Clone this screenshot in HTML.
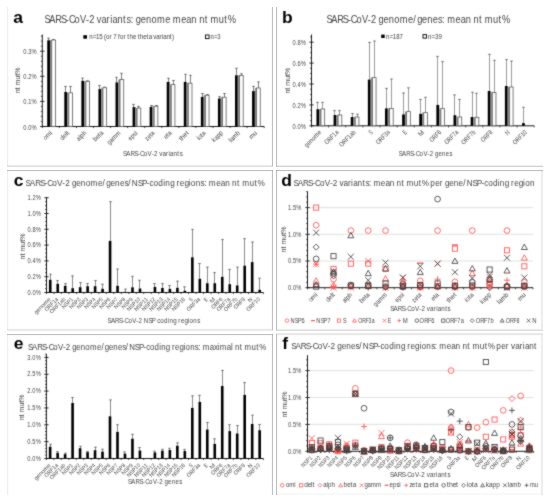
<!DOCTYPE html>
<html><head><meta charset="utf-8"><style>
html,body{margin:0;padding:0;background:#fff;}
svg{display:block;font-family:"Liberation Sans", sans-serif;will-change:transform;}
</style></head><body>
<svg width="550" height="498" viewBox="0 0 550 498">
<defs><filter id="bl" x="0" y="0" width="100%" height="100%" color-interpolation-filters="sRGB"><feConvolveMatrix order="3" kernelMatrix="1 2 1 2 16 2 1 2 1" preserveAlpha="true" edgeMode="duplicate"/></filter></defs>
<rect width="550" height="498" fill="#fff"/>
<g filter="url(#bl)">
<rect x="7" y="7.5" width="265.5" height="158.5" fill="#fff" stroke="#d9d9d9" stroke-width="1"/>
<text x="13.3" y="22.7" font-size="16.5" font-weight="bold" fill="#000" textLength="9.73" lengthAdjust="spacingAndGlyphs">a</text>
<text transform="translate(44.50,22.70) scale(0.9094,1)" x="0.00 5.27 11.92 18.15 23.42 26.94 33.06 39.11 45.63 49.14 54.96 57.55 62.74 68.24 72.24 74.87 80.37 86.40 90.25 94.74 97.81 100.41 105.81 111.52 117.55 123.60 132.77 138.49 141.08 150.25 155.96 161.46 167.49 170.09 176.12 179.96 182.56 191.73 197.76 201.61" y="0" font-size="10.23" fill="#464646">SARS-CoV-2 variants: genome mean nt mut%</text>
<rect x="83.3" y="35.2" width="3.7" height="3.5" fill="#000"/>
<text transform="translate(89.20,39.30) scale(0.8842,1)" x="0.00 3.89 7.64 11.40 15.15 16.83 19.07 22.98 25.56 27.23 30.99 32.66 34.92 38.83 41.41 43.08 45.56 49.45 53.14 54.81 57.29 61.18 64.87 67.35 70.90 72.57 75.92 79.46 82.04 83.74 87.29 91.18 93.66" y="0" font-size="6.94" fill="#404040">n=15 (or 7 for the theta variant)</text>
<rect x="205.5" y="35.0" width="3.6" height="3.6" fill="#fff" stroke="#000" stroke-width="0.9"/>
<text transform="translate(210.60,39.30) scale(0.8491,1)" x="0.00 4.02 7.90" y="0" font-size="6.94" fill="#404040">n=3</text>
<text transform="translate(20.20,80.40) rotate(-90)" x="-12.98" y="0" font-size="7.95" fill="#464646" textLength="25.96" lengthAdjust="spacingAndGlyphs">nt mut%</text>
<line x1="42.3" y1="34.5" x2="42.3" y2="126.5" stroke="#000" stroke-width="0.9"/>
<line x1="40.099999999999994" y1="126.50" x2="44.5" y2="126.50" stroke="#000" stroke-width="0.8"/>
<text transform="translate(36.30,129.50) scale(0.8201,1)" x="-15.95 -11.87 -9.84 -5.76" y="0" font-size="7.00" fill="#464646">0.0%</text>
<line x1="40.099999999999994" y1="101.40" x2="44.5" y2="101.40" stroke="#000" stroke-width="0.8"/>
<text transform="translate(36.30,104.40) scale(0.8201,1)" x="-15.95 -11.87 -9.84 -5.76" y="0" font-size="7.00" fill="#464646">0.1%</text>
<line x1="40.099999999999994" y1="76.30" x2="44.5" y2="76.30" stroke="#000" stroke-width="0.8"/>
<text transform="translate(36.30,79.30) scale(0.8201,1)" x="-15.95 -11.87 -9.84 -5.76" y="0" font-size="7.00" fill="#464646">0.2%</text>
<line x1="40.099999999999994" y1="51.20" x2="44.5" y2="51.20" stroke="#000" stroke-width="0.8"/>
<text transform="translate(36.30,54.20) scale(0.8201,1)" x="-15.95 -11.87 -9.84 -5.76" y="0" font-size="7.00" fill="#464646">0.3%</text>
<line x1="40.8" y1="121.48" x2="42.3" y2="121.48" stroke="#000" stroke-width="0.6"/>
<line x1="40.8" y1="116.46" x2="42.3" y2="116.46" stroke="#000" stroke-width="0.6"/>
<line x1="40.8" y1="111.44" x2="42.3" y2="111.44" stroke="#000" stroke-width="0.6"/>
<line x1="40.8" y1="106.42" x2="42.3" y2="106.42" stroke="#000" stroke-width="0.6"/>
<line x1="40.8" y1="96.38" x2="42.3" y2="96.38" stroke="#000" stroke-width="0.6"/>
<line x1="40.8" y1="91.36" x2="42.3" y2="91.36" stroke="#000" stroke-width="0.6"/>
<line x1="40.8" y1="86.34" x2="42.3" y2="86.34" stroke="#000" stroke-width="0.6"/>
<line x1="40.8" y1="81.32" x2="42.3" y2="81.32" stroke="#000" stroke-width="0.6"/>
<line x1="40.8" y1="71.28" x2="42.3" y2="71.28" stroke="#000" stroke-width="0.6"/>
<line x1="40.8" y1="66.26" x2="42.3" y2="66.26" stroke="#000" stroke-width="0.6"/>
<line x1="40.8" y1="61.24" x2="42.3" y2="61.24" stroke="#000" stroke-width="0.6"/>
<line x1="40.8" y1="56.22" x2="42.3" y2="56.22" stroke="#000" stroke-width="0.6"/>
<line x1="40.8" y1="46.18" x2="42.3" y2="46.18" stroke="#000" stroke-width="0.6"/>
<line x1="40.8" y1="41.16" x2="42.3" y2="41.16" stroke="#000" stroke-width="0.6"/>
<line x1="40.8" y1="36.14" x2="42.3" y2="36.14" stroke="#000" stroke-width="0.6"/>
<line x1="42.3" y1="126.5" x2="264.2" y2="126.5" stroke="#000" stroke-width="0.9"/>
<line x1="42.30" y1="126.5" x2="42.30" y2="128.1" stroke="#000" stroke-width="0.7"/>
<line x1="59.37" y1="126.5" x2="59.37" y2="128.1" stroke="#000" stroke-width="0.7"/>
<line x1="76.44" y1="126.5" x2="76.44" y2="128.1" stroke="#000" stroke-width="0.7"/>
<line x1="93.51" y1="126.5" x2="93.51" y2="128.1" stroke="#000" stroke-width="0.7"/>
<line x1="110.58" y1="126.5" x2="110.58" y2="128.1" stroke="#000" stroke-width="0.7"/>
<line x1="127.65" y1="126.5" x2="127.65" y2="128.1" stroke="#000" stroke-width="0.7"/>
<line x1="144.72" y1="126.5" x2="144.72" y2="128.1" stroke="#000" stroke-width="0.7"/>
<line x1="161.78" y1="126.5" x2="161.78" y2="128.1" stroke="#000" stroke-width="0.7"/>
<line x1="178.85" y1="126.5" x2="178.85" y2="128.1" stroke="#000" stroke-width="0.7"/>
<line x1="195.92" y1="126.5" x2="195.92" y2="128.1" stroke="#000" stroke-width="0.7"/>
<line x1="212.99" y1="126.5" x2="212.99" y2="128.1" stroke="#000" stroke-width="0.7"/>
<line x1="230.06" y1="126.5" x2="230.06" y2="128.1" stroke="#000" stroke-width="0.7"/>
<line x1="247.13" y1="126.5" x2="247.13" y2="128.1" stroke="#000" stroke-width="0.7"/>
<line x1="264.20" y1="126.5" x2="264.20" y2="128.1" stroke="#000" stroke-width="0.7"/>
<text transform="translate(52.63,133.50) rotate(-45)" x="-9.96" y="0" font-size="6.78" fill="#464646" textLength="9.96" lengthAdjust="spacingAndGlyphs">omi</text>
<text transform="translate(69.70,133.50) rotate(-45)" x="-10.16" y="0" font-size="6.78" fill="#464646" textLength="10.16" lengthAdjust="spacingAndGlyphs">delt</text>
<text transform="translate(86.77,133.50) rotate(-45)" x="-11.26" y="0" font-size="6.78" fill="#464646" textLength="11.26" lengthAdjust="spacingAndGlyphs">alph</text>
<text transform="translate(103.84,133.50) rotate(-45)" x="-11.76" y="0" font-size="6.78" fill="#464646" textLength="11.76" lengthAdjust="spacingAndGlyphs">beta</text>
<text transform="translate(120.91,133.50) rotate(-45)" x="-16.30" y="0" font-size="6.78" fill="#464646" textLength="16.30" lengthAdjust="spacingAndGlyphs">gamm</text>
<text transform="translate(137.98,133.50) rotate(-45)" x="-10.52" y="0" font-size="6.78" fill="#464646" textLength="10.52" lengthAdjust="spacingAndGlyphs">epsi</text>
<text transform="translate(155.05,133.50) rotate(-45)" x="-10.92" y="0" font-size="6.78" fill="#464646" textLength="10.92" lengthAdjust="spacingAndGlyphs">zeta</text>
<text transform="translate(172.12,133.50) rotate(-45)" x="-8.39" y="0" font-size="6.78" fill="#464646" textLength="8.39" lengthAdjust="spacingAndGlyphs">eta</text>
<text transform="translate(189.19,133.50) rotate(-45)" x="-10.83" y="0" font-size="6.78" fill="#464646" textLength="10.83" lengthAdjust="spacingAndGlyphs">thet</text>
<text transform="translate(206.26,133.50) rotate(-45)" x="-10.05" y="0" font-size="6.78" fill="#464646" textLength="10.05" lengthAdjust="spacingAndGlyphs">iota</text>
<text transform="translate(223.33,133.50) rotate(-45)" x="-12.70" y="0" font-size="6.78" fill="#464646" textLength="12.70" lengthAdjust="spacingAndGlyphs">kapp</text>
<text transform="translate(240.40,133.50) rotate(-45)" x="-13.01" y="0" font-size="6.78" fill="#464646" textLength="13.01" lengthAdjust="spacingAndGlyphs">lamb</text>
<text transform="translate(257.47,133.50) rotate(-45)" x="-8.48" y="0" font-size="6.78" fill="#464646" textLength="8.48" lengthAdjust="spacingAndGlyphs">mu</text>
<text transform="translate(152.80,156.20) scale(0.8099,1)" x="-36.79 -32.70 -27.54 -22.70 -18.60 -15.87 -11.12 -6.41 -1.35 1.38 5.89 7.91 11.94 16.21 19.32 21.36 25.63 30.32 33.31" y="0" font-size="7.65" fill="#464646">SARS-CoV-2 variants</text>
<line x1="48.50" y1="38.10" x2="48.50" y2="40.30" stroke="#808080" stroke-width="1.0"/>
<line x1="47.20" y1="38.10" x2="49.80" y2="38.10" stroke="#404040" stroke-width="0.7"/>
<line x1="53.50" y1="39.50" x2="53.50" y2="40.00" stroke="#808080" stroke-width="1.0"/>
<line x1="52.20" y1="39.50" x2="54.80" y2="39.50" stroke="#404040" stroke-width="0.7"/>
<rect x="47.23" y="40.30" width="2.80" height="86.20" fill="#000"/>
<rect x="50.03" y="40.00" width="1.7" height="86.50" fill="#8f8f8f"/>
<rect x="51.73" y="40.00" width="3.7" height="86.50" fill="#fff" stroke="#5a5a5a" stroke-width="0.8"/>
<line x1="65.50" y1="86.40" x2="65.50" y2="92.00" stroke="#808080" stroke-width="1.0"/>
<line x1="64.20" y1="86.40" x2="66.80" y2="86.40" stroke="#404040" stroke-width="0.7"/>
<line x1="70.50" y1="86.40" x2="70.50" y2="92.80" stroke="#808080" stroke-width="1.0"/>
<line x1="69.20" y1="86.40" x2="71.80" y2="86.40" stroke="#404040" stroke-width="0.7"/>
<rect x="64.30" y="92.00" width="2.80" height="34.50" fill="#000"/>
<rect x="67.10" y="92.80" width="1.7" height="33.70" fill="#8f8f8f"/>
<rect x="68.80" y="92.80" width="3.7" height="33.70" fill="#fff" stroke="#5a5a5a" stroke-width="0.8"/>
<line x1="82.50" y1="78.10" x2="82.50" y2="80.80" stroke="#808080" stroke-width="1.0"/>
<line x1="81.20" y1="78.10" x2="83.80" y2="78.10" stroke="#404040" stroke-width="0.7"/>
<line x1="87.50" y1="80.80" x2="87.50" y2="81.30" stroke="#808080" stroke-width="1.0"/>
<line x1="86.20" y1="80.80" x2="88.80" y2="80.80" stroke="#404040" stroke-width="0.7"/>
<rect x="81.37" y="80.80" width="2.80" height="45.70" fill="#000"/>
<rect x="84.17" y="81.30" width="1.7" height="45.20" fill="#8f8f8f"/>
<rect x="85.87" y="81.30" width="3.7" height="45.20" fill="#fff" stroke="#5a5a5a" stroke-width="0.8"/>
<line x1="99.50" y1="85.60" x2="99.50" y2="89.10" stroke="#808080" stroke-width="1.0"/>
<line x1="98.20" y1="85.60" x2="100.80" y2="85.60" stroke="#404040" stroke-width="0.7"/>
<line x1="104.50" y1="87.20" x2="104.50" y2="87.70" stroke="#808080" stroke-width="1.0"/>
<line x1="103.20" y1="87.20" x2="105.80" y2="87.20" stroke="#404040" stroke-width="0.7"/>
<rect x="98.44" y="89.10" width="2.80" height="37.40" fill="#000"/>
<rect x="101.24" y="87.70" width="1.7" height="38.80" fill="#8f8f8f"/>
<rect x="102.94" y="87.70" width="3.7" height="38.80" fill="#fff" stroke="#5a5a5a" stroke-width="0.8"/>
<line x1="116.50" y1="77.30" x2="116.50" y2="82.40" stroke="#808080" stroke-width="1.0"/>
<line x1="115.20" y1="77.30" x2="117.80" y2="77.30" stroke="#404040" stroke-width="0.7"/>
<line x1="121.50" y1="73.30" x2="121.50" y2="79.50" stroke="#808080" stroke-width="1.0"/>
<line x1="120.20" y1="73.30" x2="122.80" y2="73.30" stroke="#404040" stroke-width="0.7"/>
<rect x="115.51" y="82.40" width="2.80" height="44.10" fill="#000"/>
<rect x="118.31" y="79.50" width="1.7" height="47.00" fill="#8f8f8f"/>
<rect x="120.01" y="79.50" width="3.7" height="47.00" fill="#fff" stroke="#5a5a5a" stroke-width="0.8"/>
<line x1="133.50" y1="104.40" x2="133.50" y2="107.10" stroke="#808080" stroke-width="1.0"/>
<line x1="132.20" y1="104.40" x2="134.80" y2="104.40" stroke="#404040" stroke-width="0.7"/>
<line x1="138.50" y1="106.40" x2="138.50" y2="108.10" stroke="#808080" stroke-width="1.0"/>
<line x1="137.20" y1="106.40" x2="139.80" y2="106.40" stroke="#404040" stroke-width="0.7"/>
<rect x="132.58" y="107.10" width="2.80" height="19.40" fill="#000"/>
<rect x="135.38" y="108.10" width="1.7" height="18.40" fill="#8f8f8f"/>
<rect x="137.08" y="108.10" width="3.7" height="18.40" fill="#fff" stroke="#5a5a5a" stroke-width="0.8"/>
<line x1="151.50" y1="105.50" x2="151.50" y2="106.90" stroke="#808080" stroke-width="1.0"/>
<line x1="150.20" y1="105.50" x2="152.80" y2="105.50" stroke="#404040" stroke-width="0.7"/>
<line x1="156.50" y1="105.50" x2="156.50" y2="106.20" stroke="#808080" stroke-width="1.0"/>
<line x1="155.20" y1="105.50" x2="157.80" y2="105.50" stroke="#404040" stroke-width="0.7"/>
<rect x="149.65" y="106.90" width="2.80" height="19.60" fill="#000"/>
<rect x="152.45" y="106.20" width="1.7" height="20.30" fill="#8f8f8f"/>
<rect x="154.15" y="106.20" width="3.7" height="20.30" fill="#fff" stroke="#5a5a5a" stroke-width="0.8"/>
<line x1="168.50" y1="78.20" x2="168.50" y2="81.90" stroke="#808080" stroke-width="1.0"/>
<line x1="167.20" y1="78.20" x2="169.80" y2="78.20" stroke="#404040" stroke-width="0.7"/>
<line x1="173.50" y1="80.50" x2="173.50" y2="84.60" stroke="#808080" stroke-width="1.0"/>
<line x1="172.20" y1="80.50" x2="174.80" y2="80.50" stroke="#404040" stroke-width="0.7"/>
<rect x="166.72" y="81.90" width="2.80" height="44.60" fill="#000"/>
<rect x="169.52" y="84.60" width="1.7" height="41.90" fill="#8f8f8f"/>
<rect x="171.22" y="84.60" width="3.7" height="41.90" fill="#fff" stroke="#5a5a5a" stroke-width="0.8"/>
<line x1="185.50" y1="74.30" x2="185.50" y2="81.90" stroke="#808080" stroke-width="1.0"/>
<line x1="184.20" y1="74.30" x2="186.80" y2="74.30" stroke="#404040" stroke-width="0.7"/>
<line x1="190.50" y1="75.30" x2="190.50" y2="83.20" stroke="#808080" stroke-width="1.0"/>
<line x1="189.20" y1="75.30" x2="191.80" y2="75.30" stroke="#404040" stroke-width="0.7"/>
<rect x="183.79" y="81.90" width="2.80" height="44.60" fill="#000"/>
<rect x="186.59" y="83.20" width="1.7" height="43.30" fill="#8f8f8f"/>
<rect x="188.29" y="83.20" width="3.7" height="43.30" fill="#fff" stroke="#5a5a5a" stroke-width="0.8"/>
<line x1="202.50" y1="93.50" x2="202.50" y2="96.90" stroke="#808080" stroke-width="1.0"/>
<line x1="201.20" y1="93.50" x2="203.80" y2="93.50" stroke="#404040" stroke-width="0.7"/>
<line x1="207.50" y1="94.50" x2="207.50" y2="95.20" stroke="#808080" stroke-width="1.0"/>
<line x1="206.20" y1="94.50" x2="208.80" y2="94.50" stroke="#404040" stroke-width="0.7"/>
<rect x="200.86" y="96.90" width="2.80" height="29.60" fill="#000"/>
<rect x="203.66" y="95.20" width="1.7" height="31.30" fill="#8f8f8f"/>
<rect x="205.36" y="95.20" width="3.7" height="31.30" fill="#fff" stroke="#5a5a5a" stroke-width="0.8"/>
<line x1="219.50" y1="96.60" x2="219.50" y2="98.50" stroke="#808080" stroke-width="1.0"/>
<line x1="218.20" y1="96.60" x2="220.80" y2="96.60" stroke="#404040" stroke-width="0.7"/>
<line x1="224.50" y1="93.50" x2="224.50" y2="97.20" stroke="#808080" stroke-width="1.0"/>
<line x1="223.20" y1="93.50" x2="225.80" y2="93.50" stroke="#404040" stroke-width="0.7"/>
<rect x="217.93" y="98.50" width="2.80" height="28.00" fill="#000"/>
<rect x="220.73" y="97.20" width="1.7" height="29.30" fill="#8f8f8f"/>
<rect x="222.43" y="97.20" width="3.7" height="29.30" fill="#fff" stroke="#5a5a5a" stroke-width="0.8"/>
<line x1="236.50" y1="68.20" x2="236.50" y2="75.30" stroke="#808080" stroke-width="1.0"/>
<line x1="235.20" y1="68.20" x2="237.80" y2="68.20" stroke="#404040" stroke-width="0.7"/>
<line x1="241.50" y1="73.70" x2="241.50" y2="75.40" stroke="#808080" stroke-width="1.0"/>
<line x1="240.20" y1="73.70" x2="242.80" y2="73.70" stroke="#404040" stroke-width="0.7"/>
<rect x="235.00" y="75.30" width="2.80" height="51.20" fill="#000"/>
<rect x="237.80" y="75.40" width="1.7" height="51.10" fill="#8f8f8f"/>
<rect x="239.50" y="75.40" width="3.7" height="51.10" fill="#fff" stroke="#5a5a5a" stroke-width="0.8"/>
<line x1="253.50" y1="86.40" x2="253.50" y2="91.10" stroke="#808080" stroke-width="1.0"/>
<line x1="252.20" y1="86.40" x2="254.80" y2="86.40" stroke="#404040" stroke-width="0.7"/>
<line x1="258.50" y1="81.90" x2="258.50" y2="88.00" stroke="#808080" stroke-width="1.0"/>
<line x1="257.20" y1="81.90" x2="259.80" y2="81.90" stroke="#404040" stroke-width="0.7"/>
<rect x="252.07" y="91.10" width="2.80" height="35.40" fill="#000"/>
<rect x="254.87" y="88.00" width="1.7" height="38.50" fill="#8f8f8f"/>
<rect x="256.57" y="88.00" width="3.7" height="38.50" fill="#fff" stroke="#5a5a5a" stroke-width="0.8"/>
<rect x="276.5" y="7.5" width="266.0" height="158.7" fill="#fff" stroke="#d9d9d9" stroke-width="1"/>
<text x="282.1" y="22.6" font-size="16.5" font-weight="bold" fill="#000" textLength="10.68" lengthAdjust="spacingAndGlyphs">b</text>
<text transform="translate(326.40,23.10) scale(0.9092,1)" x="0.00 5.26 11.89 18.11 23.37 26.88 32.99 39.03 45.53 49.04 54.84 57.43 62.82 68.52 74.54 80.58 89.73 95.43 99.86 105.25 110.95 116.97 122.67 127.15 130.22 132.81 141.96 147.66 153.14 159.16 161.75 167.77 171.61 174.20 183.35 189.36 193.20" y="0" font-size="10.21" fill="#464646">SARS-CoV-2 genome/genes: mean nt mut%</text>
<rect x="381.2" y="34.6" width="3.5" height="3.4" fill="#000"/>
<text transform="translate(385.90,38.50) scale(0.8718,1)" x="0.00 4.01 7.89 11.76 15.63" y="0" font-size="6.94" fill="#404040">n=187</text>
<rect x="423" y="34.6" width="3.5" height="3.5" fill="#fff" stroke="#000" stroke-width="0.9"/>
<text transform="translate(428.00,38.50) scale(0.8952,1)" x="0.00 4.02 7.89 11.76" y="0" font-size="6.94" fill="#404040">n=39</text>
<text transform="translate(290.20,80.60) rotate(-90)" x="-12.98" y="0" font-size="7.95" fill="#464646" textLength="25.96" lengthAdjust="spacingAndGlyphs">nt mut%</text>
<line x1="311.5" y1="34.5" x2="311.5" y2="125.8" stroke="#000" stroke-width="0.9"/>
<line x1="309.3" y1="125.80" x2="313.7" y2="125.80" stroke="#000" stroke-width="0.8"/>
<text transform="translate(305.50,128.80) scale(0.8201,1)" x="-15.95 -11.87 -9.84 -5.76" y="0" font-size="7.00" fill="#464646">0.0%</text>
<line x1="309.3" y1="104.90" x2="313.7" y2="104.90" stroke="#000" stroke-width="0.8"/>
<text transform="translate(305.50,107.90) scale(0.8201,1)" x="-15.95 -11.87 -9.84 -5.76" y="0" font-size="7.00" fill="#464646">0.2%</text>
<line x1="309.3" y1="84.00" x2="313.7" y2="84.00" stroke="#000" stroke-width="0.8"/>
<text transform="translate(305.50,87.00) scale(0.8201,1)" x="-15.95 -11.87 -9.84 -5.76" y="0" font-size="7.00" fill="#464646">0.4%</text>
<line x1="309.3" y1="63.10" x2="313.7" y2="63.10" stroke="#000" stroke-width="0.8"/>
<text transform="translate(305.50,66.10) scale(0.8201,1)" x="-15.95 -11.87 -9.84 -5.76" y="0" font-size="7.00" fill="#464646">0.6%</text>
<line x1="309.3" y1="42.20" x2="313.7" y2="42.20" stroke="#000" stroke-width="0.8"/>
<text transform="translate(305.50,45.20) scale(0.8201,1)" x="-15.95 -11.87 -9.84 -5.76" y="0" font-size="7.00" fill="#464646">0.8%</text>
<line x1="310.0" y1="120.58" x2="311.5" y2="120.58" stroke="#000" stroke-width="0.6"/>
<line x1="310.0" y1="115.35" x2="311.5" y2="115.35" stroke="#000" stroke-width="0.6"/>
<line x1="310.0" y1="110.13" x2="311.5" y2="110.13" stroke="#000" stroke-width="0.6"/>
<line x1="310.0" y1="99.68" x2="311.5" y2="99.68" stroke="#000" stroke-width="0.6"/>
<line x1="310.0" y1="94.45" x2="311.5" y2="94.45" stroke="#000" stroke-width="0.6"/>
<line x1="310.0" y1="89.23" x2="311.5" y2="89.23" stroke="#000" stroke-width="0.6"/>
<line x1="310.0" y1="78.78" x2="311.5" y2="78.78" stroke="#000" stroke-width="0.6"/>
<line x1="310.0" y1="73.55" x2="311.5" y2="73.55" stroke="#000" stroke-width="0.6"/>
<line x1="310.0" y1="68.33" x2="311.5" y2="68.33" stroke="#000" stroke-width="0.6"/>
<line x1="310.0" y1="57.88" x2="311.5" y2="57.88" stroke="#000" stroke-width="0.6"/>
<line x1="310.0" y1="52.65" x2="311.5" y2="52.65" stroke="#000" stroke-width="0.6"/>
<line x1="310.0" y1="47.43" x2="311.5" y2="47.43" stroke="#000" stroke-width="0.6"/>
<line x1="310.0" y1="36.98" x2="311.5" y2="36.98" stroke="#000" stroke-width="0.6"/>
<line x1="311.5" y1="125.8" x2="534.2" y2="125.8" stroke="#000" stroke-width="0.9"/>
<line x1="311.50" y1="125.8" x2="311.50" y2="127.39999999999999" stroke="#000" stroke-width="0.7"/>
<line x1="328.63" y1="125.8" x2="328.63" y2="127.39999999999999" stroke="#000" stroke-width="0.7"/>
<line x1="345.76" y1="125.8" x2="345.76" y2="127.39999999999999" stroke="#000" stroke-width="0.7"/>
<line x1="362.89" y1="125.8" x2="362.89" y2="127.39999999999999" stroke="#000" stroke-width="0.7"/>
<line x1="380.02" y1="125.8" x2="380.02" y2="127.39999999999999" stroke="#000" stroke-width="0.7"/>
<line x1="397.15" y1="125.8" x2="397.15" y2="127.39999999999999" stroke="#000" stroke-width="0.7"/>
<line x1="414.28" y1="125.8" x2="414.28" y2="127.39999999999999" stroke="#000" stroke-width="0.7"/>
<line x1="431.42" y1="125.8" x2="431.42" y2="127.39999999999999" stroke="#000" stroke-width="0.7"/>
<line x1="448.55" y1="125.8" x2="448.55" y2="127.39999999999999" stroke="#000" stroke-width="0.7"/>
<line x1="465.68" y1="125.8" x2="465.68" y2="127.39999999999999" stroke="#000" stroke-width="0.7"/>
<line x1="482.81" y1="125.8" x2="482.81" y2="127.39999999999999" stroke="#000" stroke-width="0.7"/>
<line x1="499.94" y1="125.8" x2="499.94" y2="127.39999999999999" stroke="#000" stroke-width="0.7"/>
<line x1="517.07" y1="125.8" x2="517.07" y2="127.39999999999999" stroke="#000" stroke-width="0.7"/>
<line x1="534.20" y1="125.8" x2="534.20" y2="127.39999999999999" stroke="#000" stroke-width="0.7"/>
<text transform="translate(321.87,132.80) rotate(-45)" x="-21.23" y="0" font-size="6.78" fill="#464646" textLength="21.23" lengthAdjust="spacingAndGlyphs">genome</text>
<text transform="translate(339.00,132.80) rotate(-45)" x="-16.96" y="0" font-size="6.78" fill="#464646" textLength="16.96" lengthAdjust="spacingAndGlyphs">ORF1a</text>
<text transform="translate(356.13,132.80) rotate(-45)" x="-20.33" y="0" font-size="6.78" fill="#464646" textLength="20.33" lengthAdjust="spacingAndGlyphs">ORF1ab</text>
<text transform="translate(373.26,132.80) rotate(-45)" x="-2.94" y="0" font-size="6.78" fill="#464646" textLength="2.94" lengthAdjust="spacingAndGlyphs">S</text>
<text transform="translate(390.39,132.80) rotate(-45)" x="-16.96" y="0" font-size="6.78" fill="#464646" textLength="16.96" lengthAdjust="spacingAndGlyphs">ORF3a</text>
<text transform="translate(407.52,132.80) rotate(-45)" x="-3.12" y="0" font-size="6.78" fill="#464646" textLength="3.12" lengthAdjust="spacingAndGlyphs">E</text>
<text transform="translate(424.65,132.80) rotate(-45)" x="-5.47" y="0" font-size="6.78" fill="#464646" textLength="5.47" lengthAdjust="spacingAndGlyphs">M</text>
<text transform="translate(441.78,132.80) rotate(-45)" x="-13.90" y="0" font-size="6.78" fill="#464646" textLength="13.90" lengthAdjust="spacingAndGlyphs">ORF6</text>
<text transform="translate(458.91,132.80) rotate(-45)" x="-16.96" y="0" font-size="6.78" fill="#464646" textLength="16.96" lengthAdjust="spacingAndGlyphs">ORF7a</text>
<text transform="translate(476.04,132.80) rotate(-45)" x="-17.26" y="0" font-size="6.78" fill="#464646" textLength="17.26" lengthAdjust="spacingAndGlyphs">ORF7b</text>
<text transform="translate(493.17,132.80) rotate(-45)" x="-13.90" y="0" font-size="6.78" fill="#464646" textLength="13.90" lengthAdjust="spacingAndGlyphs">ORF8</text>
<text transform="translate(510.30,132.80) rotate(-45)" x="-4.13" y="0" font-size="6.78" fill="#464646" textLength="4.13" lengthAdjust="spacingAndGlyphs">N</text>
<text transform="translate(527.43,132.80) rotate(-45)" x="-17.14" y="0" font-size="6.78" fill="#464646" textLength="17.14" lengthAdjust="spacingAndGlyphs">ORF10</text>
<text transform="translate(425.50,155.80) scale(0.7924,1)" x="-33.82 -29.62 -24.33 -19.36 -15.16 -12.36 -7.48 -2.66 2.53 5.33 9.97 12.03 16.34 20.89 25.69 30.24" y="0" font-size="7.65" fill="#464646">SARS-CoV-2 genes</text>
<line x1="317.50" y1="102.40" x2="317.50" y2="109.20" stroke="#9a9a9a" stroke-width="1.0"/>
<line x1="316.20" y1="102.40" x2="318.80" y2="102.40" stroke="#404040" stroke-width="0.7"/>
<line x1="322.50" y1="102.40" x2="322.50" y2="109.00" stroke="#9a9a9a" stroke-width="1.0"/>
<line x1="321.20" y1="102.40" x2="323.80" y2="102.40" stroke="#404040" stroke-width="0.7"/>
<rect x="316.47" y="109.20" width="2.80" height="16.60" fill="#000"/>
<rect x="319.27" y="109.00" width="1.7" height="16.80" fill="#8f8f8f"/>
<rect x="320.97" y="109.00" width="3.7" height="16.80" fill="#fff" stroke="#5a5a5a" stroke-width="0.8"/>
<line x1="334.50" y1="110.60" x2="334.50" y2="115.00" stroke="#9a9a9a" stroke-width="1.0"/>
<line x1="333.20" y1="110.60" x2="335.80" y2="110.60" stroke="#404040" stroke-width="0.7"/>
<line x1="339.50" y1="110.60" x2="339.50" y2="115.00" stroke="#9a9a9a" stroke-width="1.0"/>
<line x1="338.20" y1="110.60" x2="340.80" y2="110.60" stroke="#404040" stroke-width="0.7"/>
<rect x="333.60" y="115.00" width="2.80" height="10.80" fill="#000"/>
<rect x="336.40" y="115.00" width="1.7" height="10.80" fill="#8f8f8f"/>
<rect x="338.10" y="115.00" width="3.7" height="10.80" fill="#fff" stroke="#5a5a5a" stroke-width="0.8"/>
<line x1="352.50" y1="113.60" x2="352.50" y2="117.00" stroke="#9a9a9a" stroke-width="1.0"/>
<line x1="351.20" y1="113.60" x2="353.80" y2="113.60" stroke="#404040" stroke-width="0.7"/>
<line x1="357.50" y1="114.20" x2="357.50" y2="117.00" stroke="#9a9a9a" stroke-width="1.0"/>
<line x1="356.20" y1="114.20" x2="358.80" y2="114.20" stroke="#404040" stroke-width="0.7"/>
<rect x="350.73" y="117.00" width="2.80" height="8.80" fill="#000"/>
<rect x="353.53" y="117.00" width="1.7" height="8.80" fill="#8f8f8f"/>
<rect x="355.23" y="117.00" width="3.7" height="8.80" fill="#fff" stroke="#5a5a5a" stroke-width="0.8"/>
<line x1="369.50" y1="42.40" x2="369.50" y2="79.60" stroke="#9a9a9a" stroke-width="1.0"/>
<line x1="368.20" y1="42.40" x2="370.80" y2="42.40" stroke="#404040" stroke-width="0.7"/>
<line x1="374.50" y1="41.00" x2="374.50" y2="77.60" stroke="#9a9a9a" stroke-width="1.0"/>
<line x1="373.20" y1="41.00" x2="375.80" y2="41.00" stroke="#404040" stroke-width="0.7"/>
<rect x="367.86" y="79.60" width="2.80" height="46.20" fill="#000"/>
<rect x="370.66" y="77.60" width="1.7" height="48.20" fill="#8f8f8f"/>
<rect x="372.36" y="77.60" width="3.7" height="48.20" fill="#fff" stroke="#5a5a5a" stroke-width="0.8"/>
<line x1="386.50" y1="88.40" x2="386.50" y2="108.40" stroke="#9a9a9a" stroke-width="1.0"/>
<line x1="385.20" y1="88.40" x2="387.80" y2="88.40" stroke="#404040" stroke-width="0.7"/>
<line x1="391.50" y1="79.00" x2="391.50" y2="108.40" stroke="#9a9a9a" stroke-width="1.0"/>
<line x1="390.20" y1="79.00" x2="392.80" y2="79.00" stroke="#404040" stroke-width="0.7"/>
<rect x="384.99" y="108.40" width="2.80" height="17.40" fill="#000"/>
<rect x="387.79" y="108.40" width="1.7" height="17.40" fill="#8f8f8f"/>
<rect x="389.49" y="108.40" width="3.7" height="17.40" fill="#fff" stroke="#5a5a5a" stroke-width="0.8"/>
<line x1="403.50" y1="93.00" x2="403.50" y2="114.40" stroke="#9a9a9a" stroke-width="1.0"/>
<line x1="402.20" y1="93.00" x2="404.80" y2="93.00" stroke="#404040" stroke-width="0.7"/>
<line x1="408.50" y1="87.80" x2="408.50" y2="111.60" stroke="#9a9a9a" stroke-width="1.0"/>
<line x1="407.20" y1="87.80" x2="409.80" y2="87.80" stroke="#404040" stroke-width="0.7"/>
<rect x="402.12" y="114.40" width="2.80" height="11.40" fill="#000"/>
<rect x="404.92" y="111.60" width="1.7" height="14.20" fill="#8f8f8f"/>
<rect x="406.62" y="111.60" width="3.7" height="14.20" fill="#fff" stroke="#5a5a5a" stroke-width="0.8"/>
<line x1="420.50" y1="99.40" x2="420.50" y2="113.90" stroke="#9a9a9a" stroke-width="1.0"/>
<line x1="419.20" y1="99.40" x2="421.80" y2="99.40" stroke="#404040" stroke-width="0.7"/>
<line x1="425.50" y1="97.30" x2="425.50" y2="112.60" stroke="#9a9a9a" stroke-width="1.0"/>
<line x1="424.20" y1="97.30" x2="426.80" y2="97.30" stroke="#404040" stroke-width="0.7"/>
<rect x="419.25" y="113.90" width="2.80" height="11.90" fill="#000"/>
<rect x="422.05" y="112.60" width="1.7" height="13.20" fill="#8f8f8f"/>
<rect x="423.75" y="112.60" width="3.7" height="13.20" fill="#fff" stroke="#5a5a5a" stroke-width="0.8"/>
<line x1="437.50" y1="56.40" x2="437.50" y2="104.90" stroke="#9a9a9a" stroke-width="1.0"/>
<line x1="436.20" y1="56.40" x2="438.80" y2="56.40" stroke="#404040" stroke-width="0.7"/>
<line x1="442.50" y1="61.70" x2="442.50" y2="108.60" stroke="#9a9a9a" stroke-width="1.0"/>
<line x1="441.20" y1="61.70" x2="443.80" y2="61.70" stroke="#404040" stroke-width="0.7"/>
<rect x="436.38" y="104.90" width="2.80" height="20.90" fill="#000"/>
<rect x="439.18" y="108.60" width="1.7" height="17.20" fill="#8f8f8f"/>
<rect x="440.88" y="108.60" width="3.7" height="17.20" fill="#fff" stroke="#5a5a5a" stroke-width="0.8"/>
<line x1="454.50" y1="94.90" x2="454.50" y2="115.20" stroke="#9a9a9a" stroke-width="1.0"/>
<line x1="453.20" y1="94.90" x2="455.80" y2="94.90" stroke="#404040" stroke-width="0.7"/>
<line x1="459.50" y1="99.40" x2="459.50" y2="117.00" stroke="#9a9a9a" stroke-width="1.0"/>
<line x1="458.20" y1="99.40" x2="460.80" y2="99.40" stroke="#404040" stroke-width="0.7"/>
<rect x="453.51" y="115.20" width="2.80" height="10.60" fill="#000"/>
<rect x="456.31" y="117.00" width="1.7" height="8.80" fill="#8f8f8f"/>
<rect x="458.01" y="117.00" width="3.7" height="8.80" fill="#fff" stroke="#5a5a5a" stroke-width="0.8"/>
<line x1="472.50" y1="92.30" x2="472.50" y2="117.00" stroke="#9a9a9a" stroke-width="1.0"/>
<line x1="471.20" y1="92.30" x2="473.80" y2="92.30" stroke="#404040" stroke-width="0.7"/>
<line x1="476.50" y1="93.30" x2="476.50" y2="117.30" stroke="#9a9a9a" stroke-width="1.0"/>
<line x1="475.20" y1="93.30" x2="477.80" y2="93.30" stroke="#404040" stroke-width="0.7"/>
<rect x="470.64" y="117.00" width="2.80" height="8.80" fill="#000"/>
<rect x="473.44" y="117.30" width="1.7" height="8.50" fill="#8f8f8f"/>
<rect x="475.14" y="117.30" width="3.7" height="8.50" fill="#fff" stroke="#5a5a5a" stroke-width="0.8"/>
<line x1="489.50" y1="54.30" x2="489.50" y2="91.00" stroke="#9a9a9a" stroke-width="1.0"/>
<line x1="488.20" y1="54.30" x2="490.80" y2="54.30" stroke="#404040" stroke-width="0.7"/>
<line x1="494.50" y1="60.30" x2="494.50" y2="92.50" stroke="#9a9a9a" stroke-width="1.0"/>
<line x1="493.20" y1="60.30" x2="495.80" y2="60.30" stroke="#404040" stroke-width="0.7"/>
<rect x="487.77" y="91.00" width="2.80" height="34.80" fill="#000"/>
<rect x="490.57" y="92.50" width="1.7" height="33.30" fill="#8f8f8f"/>
<rect x="492.27" y="92.50" width="3.7" height="33.30" fill="#fff" stroke="#5a5a5a" stroke-width="0.8"/>
<line x1="506.50" y1="59.60" x2="506.50" y2="86.00" stroke="#9a9a9a" stroke-width="1.0"/>
<line x1="505.20" y1="59.60" x2="507.80" y2="59.60" stroke="#404040" stroke-width="0.7"/>
<line x1="511.50" y1="61.10" x2="511.50" y2="87.00" stroke="#9a9a9a" stroke-width="1.0"/>
<line x1="510.20" y1="61.10" x2="512.80" y2="61.10" stroke="#404040" stroke-width="0.7"/>
<rect x="504.90" y="86.00" width="2.80" height="39.80" fill="#000"/>
<rect x="507.70" y="87.00" width="1.7" height="38.80" fill="#8f8f8f"/>
<rect x="509.40" y="87.00" width="3.7" height="38.80" fill="#fff" stroke="#5a5a5a" stroke-width="0.8"/>
<line x1="523.50" y1="107.30" x2="523.50" y2="123.10" stroke="#9a9a9a" stroke-width="1.0"/>
<line x1="522.20" y1="107.30" x2="524.80" y2="107.30" stroke="#404040" stroke-width="0.7"/>
<rect x="522.03" y="123.10" width="2.80" height="2.70" fill="#000"/>
<rect x="7" y="170.5" width="265.5" height="159.3" fill="#fff" stroke="#d9d9d9" stroke-width="1"/>
<text x="13.8" y="186" font-size="16.5" font-weight="bold" fill="#000" textLength="9.73" lengthAdjust="spacingAndGlyphs">c</text>
<text transform="translate(25.60,185.90) scale(0.8425,1)" x="0.00 5.04 11.38 17.34 22.38 25.73 31.58 37.37 43.59 46.95 52.50 54.98 60.14 65.60 71.36 77.15 85.91 91.36 95.60 100.77 106.22 111.98 117.44 121.73 125.97 133.05 138.09 143.75 147.11 151.75 157.53 163.29 165.81 171.57 176.73 179.21 183.04 188.49 193.65 196.17 201.95 207.72 212.01 214.94 217.42 226.18 231.64 236.89 242.65 245.13 250.89 254.57 257.04 265.80 271.57 275.24" y="0" font-size="9.79" fill="#464646">SARS-CoV-2 genome/genes/NSP-coding regions: mean nt mut%</text>
<text transform="translate(25.00,246.50) rotate(-90)" x="-12.98" y="0" font-size="7.95" fill="#464646" textLength="25.96" lengthAdjust="spacingAndGlyphs">nt mut%</text>
<line x1="46.5" y1="197.3" x2="46.5" y2="292.5" stroke="#000" stroke-width="0.9"/>
<line x1="44.3" y1="292.50" x2="48.7" y2="292.50" stroke="#000" stroke-width="0.8"/>
<text transform="translate(40.50,294.70) scale(0.8201,1)" x="-15.95 -11.87 -9.84 -5.76" y="0" font-size="7.00" fill="#464646">0.0%</text>
<line x1="44.3" y1="276.70" x2="48.7" y2="276.70" stroke="#000" stroke-width="0.8"/>
<text transform="translate(40.50,278.90) scale(0.8201,1)" x="-15.95 -11.87 -9.84 -5.76" y="0" font-size="7.00" fill="#464646">0.2%</text>
<line x1="44.3" y1="260.90" x2="48.7" y2="260.90" stroke="#000" stroke-width="0.8"/>
<text transform="translate(40.50,263.10) scale(0.8201,1)" x="-15.95 -11.87 -9.84 -5.76" y="0" font-size="7.00" fill="#464646">0.4%</text>
<line x1="44.3" y1="245.10" x2="48.7" y2="245.10" stroke="#000" stroke-width="0.8"/>
<text transform="translate(40.50,247.30) scale(0.8201,1)" x="-15.95 -11.87 -9.84 -5.76" y="0" font-size="7.00" fill="#464646">0.6%</text>
<line x1="44.3" y1="229.30" x2="48.7" y2="229.30" stroke="#000" stroke-width="0.8"/>
<text transform="translate(40.50,231.50) scale(0.8201,1)" x="-15.95 -11.87 -9.84 -5.76" y="0" font-size="7.00" fill="#464646">0.8%</text>
<line x1="44.3" y1="213.50" x2="48.7" y2="213.50" stroke="#000" stroke-width="0.8"/>
<text transform="translate(40.50,215.70) scale(0.8201,1)" x="-15.95 -11.87 -9.84 -5.76" y="0" font-size="7.00" fill="#464646">1.0%</text>
<line x1="44.3" y1="197.70" x2="48.7" y2="197.70" stroke="#000" stroke-width="0.8"/>
<text transform="translate(40.50,199.90) scale(0.8201,1)" x="-15.95 -11.87 -9.84 -5.76" y="0" font-size="7.00" fill="#464646">1.2%</text>
<line x1="45.0" y1="288.55" x2="46.5" y2="288.55" stroke="#000" stroke-width="0.6"/>
<line x1="45.0" y1="284.60" x2="46.5" y2="284.60" stroke="#000" stroke-width="0.6"/>
<line x1="45.0" y1="280.65" x2="46.5" y2="280.65" stroke="#000" stroke-width="0.6"/>
<line x1="45.0" y1="272.75" x2="46.5" y2="272.75" stroke="#000" stroke-width="0.6"/>
<line x1="45.0" y1="268.80" x2="46.5" y2="268.80" stroke="#000" stroke-width="0.6"/>
<line x1="45.0" y1="264.85" x2="46.5" y2="264.85" stroke="#000" stroke-width="0.6"/>
<line x1="45.0" y1="256.95" x2="46.5" y2="256.95" stroke="#000" stroke-width="0.6"/>
<line x1="45.0" y1="253.00" x2="46.5" y2="253.00" stroke="#000" stroke-width="0.6"/>
<line x1="45.0" y1="249.05" x2="46.5" y2="249.05" stroke="#000" stroke-width="0.6"/>
<line x1="45.0" y1="241.15" x2="46.5" y2="241.15" stroke="#000" stroke-width="0.6"/>
<line x1="45.0" y1="237.20" x2="46.5" y2="237.20" stroke="#000" stroke-width="0.6"/>
<line x1="45.0" y1="233.25" x2="46.5" y2="233.25" stroke="#000" stroke-width="0.6"/>
<line x1="45.0" y1="225.35" x2="46.5" y2="225.35" stroke="#000" stroke-width="0.6"/>
<line x1="45.0" y1="221.40" x2="46.5" y2="221.40" stroke="#000" stroke-width="0.6"/>
<line x1="45.0" y1="217.45" x2="46.5" y2="217.45" stroke="#000" stroke-width="0.6"/>
<line x1="45.0" y1="209.55" x2="46.5" y2="209.55" stroke="#000" stroke-width="0.6"/>
<line x1="45.0" y1="205.60" x2="46.5" y2="205.60" stroke="#000" stroke-width="0.6"/>
<line x1="45.0" y1="201.65" x2="46.5" y2="201.65" stroke="#000" stroke-width="0.6"/>
<line x1="46.5" y1="292.5" x2="263.4" y2="292.5" stroke="#000" stroke-width="0.9"/>
<line x1="46.50" y1="292.5" x2="46.50" y2="294.1" stroke="#000" stroke-width="0.7"/>
<line x1="53.98" y1="292.5" x2="53.98" y2="294.1" stroke="#000" stroke-width="0.7"/>
<line x1="61.46" y1="292.5" x2="61.46" y2="294.1" stroke="#000" stroke-width="0.7"/>
<line x1="68.94" y1="292.5" x2="68.94" y2="294.1" stroke="#000" stroke-width="0.7"/>
<line x1="76.42" y1="292.5" x2="76.42" y2="294.1" stroke="#000" stroke-width="0.7"/>
<line x1="83.90" y1="292.5" x2="83.90" y2="294.1" stroke="#000" stroke-width="0.7"/>
<line x1="91.38" y1="292.5" x2="91.38" y2="294.1" stroke="#000" stroke-width="0.7"/>
<line x1="98.86" y1="292.5" x2="98.86" y2="294.1" stroke="#000" stroke-width="0.7"/>
<line x1="106.33" y1="292.5" x2="106.33" y2="294.1" stroke="#000" stroke-width="0.7"/>
<line x1="113.81" y1="292.5" x2="113.81" y2="294.1" stroke="#000" stroke-width="0.7"/>
<line x1="121.29" y1="292.5" x2="121.29" y2="294.1" stroke="#000" stroke-width="0.7"/>
<line x1="128.77" y1="292.5" x2="128.77" y2="294.1" stroke="#000" stroke-width="0.7"/>
<line x1="136.25" y1="292.5" x2="136.25" y2="294.1" stroke="#000" stroke-width="0.7"/>
<line x1="143.73" y1="292.5" x2="143.73" y2="294.1" stroke="#000" stroke-width="0.7"/>
<line x1="151.21" y1="292.5" x2="151.21" y2="294.1" stroke="#000" stroke-width="0.7"/>
<line x1="158.69" y1="292.5" x2="158.69" y2="294.1" stroke="#000" stroke-width="0.7"/>
<line x1="166.17" y1="292.5" x2="166.17" y2="294.1" stroke="#000" stroke-width="0.7"/>
<line x1="173.65" y1="292.5" x2="173.65" y2="294.1" stroke="#000" stroke-width="0.7"/>
<line x1="181.13" y1="292.5" x2="181.13" y2="294.1" stroke="#000" stroke-width="0.7"/>
<line x1="188.61" y1="292.5" x2="188.61" y2="294.1" stroke="#000" stroke-width="0.7"/>
<line x1="196.09" y1="292.5" x2="196.09" y2="294.1" stroke="#000" stroke-width="0.7"/>
<line x1="203.57" y1="292.5" x2="203.57" y2="294.1" stroke="#000" stroke-width="0.7"/>
<line x1="211.04" y1="292.5" x2="211.04" y2="294.1" stroke="#000" stroke-width="0.7"/>
<line x1="218.52" y1="292.5" x2="218.52" y2="294.1" stroke="#000" stroke-width="0.7"/>
<line x1="226.00" y1="292.5" x2="226.00" y2="294.1" stroke="#000" stroke-width="0.7"/>
<line x1="233.48" y1="292.5" x2="233.48" y2="294.1" stroke="#000" stroke-width="0.7"/>
<line x1="240.96" y1="292.5" x2="240.96" y2="294.1" stroke="#000" stroke-width="0.7"/>
<line x1="248.44" y1="292.5" x2="248.44" y2="294.1" stroke="#000" stroke-width="0.7"/>
<line x1="255.92" y1="292.5" x2="255.92" y2="294.1" stroke="#000" stroke-width="0.7"/>
<line x1="263.40" y1="292.5" x2="263.40" y2="294.1" stroke="#000" stroke-width="0.7"/>
<text transform="translate(51.04,299.70) rotate(-45)" x="-20.90" y="0" font-size="5.67" fill="#464646" textLength="20.90" lengthAdjust="spacingAndGlyphs">genome</text>
<text transform="translate(58.52,299.70) rotate(-45)" x="-16.70" y="0" font-size="5.67" fill="#464646" textLength="16.70" lengthAdjust="spacingAndGlyphs">ORF1a</text>
<text transform="translate(66.00,299.70) rotate(-45)" x="-20.01" y="0" font-size="5.67" fill="#464646" textLength="20.01" lengthAdjust="spacingAndGlyphs">ORF1ab</text>
<text transform="translate(73.48,299.70) rotate(-45)" x="-13.41" y="0" font-size="5.67" fill="#464646" textLength="13.41" lengthAdjust="spacingAndGlyphs">NSP1</text>
<text transform="translate(80.96,299.70) rotate(-45)" x="-13.41" y="0" font-size="5.67" fill="#464646" textLength="13.41" lengthAdjust="spacingAndGlyphs">NSP2</text>
<text transform="translate(88.44,299.70) rotate(-45)" x="-13.41" y="0" font-size="5.67" fill="#464646" textLength="13.41" lengthAdjust="spacingAndGlyphs">NSP3</text>
<text transform="translate(95.92,299.70) rotate(-45)" x="-13.41" y="0" font-size="5.67" fill="#464646" textLength="13.41" lengthAdjust="spacingAndGlyphs">NSP4</text>
<text transform="translate(103.39,299.70) rotate(-45)" x="-13.41" y="0" font-size="5.67" fill="#464646" textLength="13.41" lengthAdjust="spacingAndGlyphs">NSP5</text>
<text transform="translate(110.87,299.70) rotate(-45)" x="-13.41" y="0" font-size="5.67" fill="#464646" textLength="13.41" lengthAdjust="spacingAndGlyphs">NSP6</text>
<text transform="translate(118.35,299.70) rotate(-45)" x="-13.41" y="0" font-size="5.67" fill="#464646" textLength="13.41" lengthAdjust="spacingAndGlyphs">NSP7</text>
<text transform="translate(125.83,299.70) rotate(-45)" x="-13.41" y="0" font-size="5.67" fill="#464646" textLength="13.41" lengthAdjust="spacingAndGlyphs">NSP8</text>
<text transform="translate(133.31,299.70) rotate(-45)" x="-13.41" y="0" font-size="5.67" fill="#464646" textLength="13.41" lengthAdjust="spacingAndGlyphs">NSP9</text>
<text transform="translate(140.79,299.70) rotate(-45)" x="-16.60" y="0" font-size="5.67" fill="#464646" textLength="16.60" lengthAdjust="spacingAndGlyphs">NSP10</text>
<text transform="translate(148.27,299.70) rotate(-45)" x="-16.60" y="0" font-size="5.67" fill="#464646" textLength="16.60" lengthAdjust="spacingAndGlyphs">NSP11</text>
<text transform="translate(155.75,299.70) rotate(-45)" x="-16.60" y="0" font-size="5.67" fill="#464646" textLength="16.60" lengthAdjust="spacingAndGlyphs">NSP12</text>
<text transform="translate(163.23,299.70) rotate(-45)" x="-16.60" y="0" font-size="5.67" fill="#464646" textLength="16.60" lengthAdjust="spacingAndGlyphs">NSP13</text>
<text transform="translate(170.71,299.70) rotate(-45)" x="-16.60" y="0" font-size="5.67" fill="#464646" textLength="16.60" lengthAdjust="spacingAndGlyphs">NSP14</text>
<text transform="translate(178.19,299.70) rotate(-45)" x="-16.60" y="0" font-size="5.67" fill="#464646" textLength="16.60" lengthAdjust="spacingAndGlyphs">NSP15</text>
<text transform="translate(185.67,299.70) rotate(-45)" x="-16.60" y="0" font-size="5.67" fill="#464646" textLength="16.60" lengthAdjust="spacingAndGlyphs">NSP16</text>
<text transform="translate(193.15,299.70) rotate(-45)" x="-2.89" y="0" font-size="5.67" fill="#464646" textLength="2.89" lengthAdjust="spacingAndGlyphs">S</text>
<text transform="translate(200.63,299.70) rotate(-45)" x="-16.70" y="0" font-size="5.67" fill="#464646" textLength="16.70" lengthAdjust="spacingAndGlyphs">ORF3a</text>
<text transform="translate(208.11,299.70) rotate(-45)" x="-3.08" y="0" font-size="5.67" fill="#464646" textLength="3.08" lengthAdjust="spacingAndGlyphs">E</text>
<text transform="translate(215.58,299.70) rotate(-45)" x="-5.39" y="0" font-size="5.67" fill="#464646" textLength="5.39" lengthAdjust="spacingAndGlyphs">M</text>
<text transform="translate(223.06,299.70) rotate(-45)" x="-13.68" y="0" font-size="5.67" fill="#464646" textLength="13.68" lengthAdjust="spacingAndGlyphs">ORF6</text>
<text transform="translate(230.54,299.70) rotate(-45)" x="-16.70" y="0" font-size="5.67" fill="#464646" textLength="16.70" lengthAdjust="spacingAndGlyphs">ORF7a</text>
<text transform="translate(238.02,299.70) rotate(-45)" x="-16.99" y="0" font-size="5.67" fill="#464646" textLength="16.99" lengthAdjust="spacingAndGlyphs">ORF7b</text>
<text transform="translate(245.50,299.70) rotate(-45)" x="-13.68" y="0" font-size="5.67" fill="#464646" textLength="13.68" lengthAdjust="spacingAndGlyphs">ORF8</text>
<text transform="translate(252.98,299.70) rotate(-45)" x="-4.07" y="0" font-size="5.67" fill="#464646" textLength="4.07" lengthAdjust="spacingAndGlyphs">N</text>
<text transform="translate(260.46,299.70) rotate(-45)" x="-16.87" y="0" font-size="5.67" fill="#464646" textLength="16.87" lengthAdjust="spacingAndGlyphs">ORF10</text>
<text transform="translate(153.80,323.00) scale(0.8084,1)" x="-57.15 -53.04 -47.86 -43.01 -38.90 -36.16 -31.39 -26.67 -21.60 -18.86 -14.33 -12.30 -6.53 -2.42 2.20 4.22 8.00 12.72 17.42 19.47 24.17 28.38 30.40 33.52 37.97 42.18 44.23 48.95 53.65" y="0" font-size="7.65" fill="#464646">SARS-CoV-2 NSP coding regions</text>
<line x1="50.50" y1="274.20" x2="50.50" y2="279.80" stroke="#8a8a8a" stroke-width="1.0"/>
<line x1="49.20" y1="274.20" x2="51.80" y2="274.20" stroke="#404040" stroke-width="0.7"/>
<rect x="48.94" y="279.80" width="2.60" height="12.70" fill="#000"/>
<line x1="57.50" y1="280.60" x2="57.50" y2="283.80" stroke="#8a8a8a" stroke-width="1.0"/>
<line x1="56.20" y1="280.60" x2="58.80" y2="280.60" stroke="#404040" stroke-width="0.7"/>
<rect x="56.42" y="283.80" width="2.60" height="8.70" fill="#000"/>
<line x1="65.50" y1="283.60" x2="65.50" y2="285.80" stroke="#8a8a8a" stroke-width="1.0"/>
<line x1="64.20" y1="283.60" x2="66.80" y2="283.60" stroke="#404040" stroke-width="0.7"/>
<rect x="63.90" y="285.80" width="2.60" height="6.70" fill="#000"/>
<line x1="72.50" y1="275.80" x2="72.50" y2="288.20" stroke="#8a8a8a" stroke-width="1.0"/>
<line x1="71.20" y1="275.80" x2="73.80" y2="275.80" stroke="#404040" stroke-width="0.7"/>
<rect x="71.38" y="288.20" width="2.60" height="4.30" fill="#000"/>
<line x1="80.50" y1="282.60" x2="80.50" y2="287.20" stroke="#8a8a8a" stroke-width="1.0"/>
<line x1="79.20" y1="282.60" x2="81.80" y2="282.60" stroke="#404040" stroke-width="0.7"/>
<rect x="78.86" y="287.20" width="2.60" height="5.30" fill="#000"/>
<line x1="87.50" y1="283.60" x2="87.50" y2="286.20" stroke="#8a8a8a" stroke-width="1.0"/>
<line x1="86.20" y1="283.60" x2="88.80" y2="283.60" stroke="#404040" stroke-width="0.7"/>
<rect x="86.34" y="286.20" width="2.60" height="6.30" fill="#000"/>
<line x1="95.50" y1="280.60" x2="95.50" y2="286.20" stroke="#8a8a8a" stroke-width="1.0"/>
<line x1="94.20" y1="280.60" x2="96.80" y2="280.60" stroke="#404040" stroke-width="0.7"/>
<rect x="93.82" y="286.20" width="2.60" height="6.30" fill="#000"/>
<line x1="102.50" y1="284.20" x2="102.50" y2="288.80" stroke="#8a8a8a" stroke-width="1.0"/>
<line x1="101.20" y1="284.20" x2="103.80" y2="284.20" stroke="#404040" stroke-width="0.7"/>
<rect x="101.29" y="288.80" width="2.60" height="3.70" fill="#000"/>
<line x1="110.50" y1="201.70" x2="110.50" y2="240.90" stroke="#8a8a8a" stroke-width="1.0"/>
<line x1="109.20" y1="201.70" x2="111.80" y2="201.70" stroke="#404040" stroke-width="0.7"/>
<rect x="108.77" y="240.90" width="2.60" height="51.60" fill="#000"/>
<line x1="117.50" y1="269.00" x2="117.50" y2="285.80" stroke="#8a8a8a" stroke-width="1.0"/>
<line x1="116.20" y1="269.00" x2="118.80" y2="269.00" stroke="#404040" stroke-width="0.7"/>
<rect x="116.25" y="285.80" width="2.60" height="6.70" fill="#000"/>
<line x1="125.50" y1="289.10" x2="125.50" y2="291.80" stroke="#8a8a8a" stroke-width="1.0"/>
<line x1="124.20" y1="289.10" x2="126.80" y2="289.10" stroke="#404040" stroke-width="0.7"/>
<rect x="123.73" y="291.80" width="2.60" height="0.70" fill="#000"/>
<line x1="132.50" y1="276.30" x2="132.50" y2="287.30" stroke="#8a8a8a" stroke-width="1.0"/>
<line x1="131.20" y1="276.30" x2="133.80" y2="276.30" stroke="#404040" stroke-width="0.7"/>
<rect x="131.21" y="287.30" width="2.60" height="5.20" fill="#000"/>
<line x1="139.50" y1="280.30" x2="139.50" y2="288.50" stroke="#8a8a8a" stroke-width="1.0"/>
<line x1="138.20" y1="280.30" x2="140.80" y2="280.30" stroke="#404040" stroke-width="0.7"/>
<rect x="138.69" y="288.50" width="2.60" height="4.00" fill="#000"/>
<line x1="154.50" y1="283.60" x2="154.50" y2="286.90" stroke="#8a8a8a" stroke-width="1.0"/>
<line x1="153.20" y1="283.60" x2="155.80" y2="283.60" stroke="#404040" stroke-width="0.7"/>
<rect x="153.65" y="286.90" width="2.60" height="5.60" fill="#000"/>
<line x1="162.50" y1="283.60" x2="162.50" y2="288.00" stroke="#8a8a8a" stroke-width="1.0"/>
<line x1="161.20" y1="283.60" x2="163.80" y2="283.60" stroke="#404040" stroke-width="0.7"/>
<rect x="161.13" y="288.00" width="2.60" height="4.50" fill="#000"/>
<line x1="169.50" y1="285.60" x2="169.50" y2="288.90" stroke="#8a8a8a" stroke-width="1.0"/>
<line x1="168.20" y1="285.60" x2="170.80" y2="285.60" stroke="#404040" stroke-width="0.7"/>
<rect x="168.61" y="288.90" width="2.60" height="3.60" fill="#000"/>
<line x1="177.50" y1="281.20" x2="177.50" y2="287.80" stroke="#8a8a8a" stroke-width="1.0"/>
<line x1="176.20" y1="281.20" x2="178.80" y2="281.20" stroke="#404040" stroke-width="0.7"/>
<rect x="176.09" y="287.80" width="2.60" height="4.70" fill="#000"/>
<line x1="184.50" y1="286.80" x2="184.50" y2="290.70" stroke="#8a8a8a" stroke-width="1.0"/>
<line x1="183.20" y1="286.80" x2="185.80" y2="286.80" stroke="#404040" stroke-width="0.7"/>
<rect x="183.57" y="290.70" width="2.60" height="1.80" fill="#000"/>
<line x1="192.50" y1="229.40" x2="192.50" y2="257.30" stroke="#8a8a8a" stroke-width="1.0"/>
<line x1="191.20" y1="229.40" x2="193.80" y2="229.40" stroke="#404040" stroke-width="0.7"/>
<rect x="191.05" y="257.30" width="2.60" height="35.20" fill="#000"/>
<line x1="199.50" y1="263.50" x2="199.50" y2="278.80" stroke="#8a8a8a" stroke-width="1.0"/>
<line x1="198.20" y1="263.50" x2="200.80" y2="263.50" stroke="#404040" stroke-width="0.7"/>
<rect x="198.53" y="278.80" width="2.60" height="13.70" fill="#000"/>
<line x1="207.50" y1="267.10" x2="207.50" y2="283.20" stroke="#8a8a8a" stroke-width="1.0"/>
<line x1="206.20" y1="267.10" x2="208.80" y2="267.10" stroke="#404040" stroke-width="0.7"/>
<rect x="206.01" y="283.20" width="2.60" height="9.30" fill="#000"/>
<line x1="214.50" y1="272.60" x2="214.50" y2="283.20" stroke="#8a8a8a" stroke-width="1.0"/>
<line x1="213.20" y1="272.60" x2="215.80" y2="272.60" stroke="#404040" stroke-width="0.7"/>
<rect x="213.48" y="283.20" width="2.60" height="9.30" fill="#000"/>
<line x1="222.50" y1="239.60" x2="222.50" y2="276.80" stroke="#8a8a8a" stroke-width="1.0"/>
<line x1="221.20" y1="239.60" x2="223.80" y2="239.60" stroke="#404040" stroke-width="0.7"/>
<rect x="220.96" y="276.80" width="2.60" height="15.70" fill="#000"/>
<line x1="229.50" y1="269.40" x2="229.50" y2="284.20" stroke="#8a8a8a" stroke-width="1.0"/>
<line x1="228.20" y1="269.40" x2="230.80" y2="269.40" stroke="#404040" stroke-width="0.7"/>
<rect x="228.44" y="284.20" width="2.60" height="8.30" fill="#000"/>
<line x1="237.50" y1="267.10" x2="237.50" y2="285.40" stroke="#8a8a8a" stroke-width="1.0"/>
<line x1="236.20" y1="267.10" x2="238.80" y2="267.10" stroke="#404040" stroke-width="0.7"/>
<rect x="235.92" y="285.40" width="2.60" height="7.10" fill="#000"/>
<line x1="244.50" y1="238.60" x2="244.50" y2="265.70" stroke="#8a8a8a" stroke-width="1.0"/>
<line x1="243.20" y1="238.60" x2="245.80" y2="238.60" stroke="#404040" stroke-width="0.7"/>
<rect x="243.40" y="265.70" width="2.60" height="26.80" fill="#000"/>
<line x1="252.50" y1="242.00" x2="252.50" y2="262.10" stroke="#8a8a8a" stroke-width="1.0"/>
<line x1="251.20" y1="242.00" x2="253.80" y2="242.00" stroke="#404040" stroke-width="0.7"/>
<rect x="250.88" y="262.10" width="2.60" height="30.40" fill="#000"/>
<line x1="259.50" y1="278.20" x2="259.50" y2="289.80" stroke="#8a8a8a" stroke-width="1.0"/>
<line x1="258.20" y1="278.20" x2="260.80" y2="278.20" stroke="#404040" stroke-width="0.7"/>
<rect x="258.36" y="289.80" width="2.60" height="2.70" fill="#000"/>
<rect x="7" y="334.5" width="265.5" height="160.0" fill="#fff" stroke="#d9d9d9" stroke-width="1"/>
<text x="13.8" y="348.5" font-size="16.5" font-weight="bold" fill="#000" textLength="9.73" lengthAdjust="spacingAndGlyphs">e</text>
<text transform="translate(28.00,349.50) scale(0.8443,1)" x="0.00 4.79 10.83 16.50 21.29 24.49 30.05 35.55 41.47 44.67 49.95 52.31 57.22 62.42 67.90 73.40 81.74 86.93 90.96 95.87 101.07 106.55 111.74 115.82 119.85 126.59 131.38 136.77 139.97 144.38 149.88 155.37 157.76 163.24 168.15 170.51 174.15 179.34 184.25 186.65 192.15 197.63 201.71 204.50 206.86 215.20 220.20 224.72 227.11 235.45 240.44 242.84 245.20 250.68 254.17 256.53 264.87 270.35 273.84" y="0" font-size="9.34" fill="#464646">SARS-CoV-2 genome/genes/NSP-coding regions: maximal nt mut%</text>
<text transform="translate(24.00,407.40) rotate(-90)" x="-12.98" y="0" font-size="7.95" fill="#464646" textLength="25.96" lengthAdjust="spacingAndGlyphs">nt mut%</text>
<line x1="46.4" y1="354" x2="46.4" y2="458.5" stroke="#000" stroke-width="0.9"/>
<line x1="44.199999999999996" y1="458.50" x2="48.6" y2="458.50" stroke="#000" stroke-width="0.8"/>
<text transform="translate(40.40,460.70) scale(0.8201,1)" x="-15.95 -11.87 -9.84 -5.76" y="0" font-size="7.00" fill="#464646">0.0%</text>
<line x1="44.199999999999996" y1="441.65" x2="48.6" y2="441.65" stroke="#000" stroke-width="0.8"/>
<text transform="translate(40.40,443.85) scale(0.8201,1)" x="-15.95 -11.87 -9.84 -5.76" y="0" font-size="7.00" fill="#464646">0.5%</text>
<line x1="44.199999999999996" y1="424.80" x2="48.6" y2="424.80" stroke="#000" stroke-width="0.8"/>
<text transform="translate(40.40,427.00) scale(0.8201,1)" x="-15.95 -11.87 -9.84 -5.76" y="0" font-size="7.00" fill="#464646">1.0%</text>
<line x1="44.199999999999996" y1="407.95" x2="48.6" y2="407.95" stroke="#000" stroke-width="0.8"/>
<text transform="translate(40.40,410.15) scale(0.8201,1)" x="-15.95 -11.87 -9.84 -5.76" y="0" font-size="7.00" fill="#464646">1.5%</text>
<line x1="44.199999999999996" y1="391.10" x2="48.6" y2="391.10" stroke="#000" stroke-width="0.8"/>
<text transform="translate(40.40,393.30) scale(0.8201,1)" x="-15.95 -11.87 -9.84 -5.76" y="0" font-size="7.00" fill="#464646">2.0%</text>
<line x1="44.199999999999996" y1="374.25" x2="48.6" y2="374.25" stroke="#000" stroke-width="0.8"/>
<text transform="translate(40.40,376.45) scale(0.8201,1)" x="-15.95 -11.87 -9.84 -5.76" y="0" font-size="7.00" fill="#464646">2.5%</text>
<line x1="44.199999999999996" y1="357.40" x2="48.6" y2="357.40" stroke="#000" stroke-width="0.8"/>
<text transform="translate(40.40,359.60) scale(0.8201,1)" x="-15.95 -11.87 -9.84 -5.76" y="0" font-size="7.00" fill="#464646">3.0%</text>
<line x1="44.9" y1="455.13" x2="46.4" y2="455.13" stroke="#000" stroke-width="0.6"/>
<line x1="44.9" y1="451.76" x2="46.4" y2="451.76" stroke="#000" stroke-width="0.6"/>
<line x1="44.9" y1="448.39" x2="46.4" y2="448.39" stroke="#000" stroke-width="0.6"/>
<line x1="44.9" y1="445.02" x2="46.4" y2="445.02" stroke="#000" stroke-width="0.6"/>
<line x1="44.9" y1="438.28" x2="46.4" y2="438.28" stroke="#000" stroke-width="0.6"/>
<line x1="44.9" y1="434.91" x2="46.4" y2="434.91" stroke="#000" stroke-width="0.6"/>
<line x1="44.9" y1="431.54" x2="46.4" y2="431.54" stroke="#000" stroke-width="0.6"/>
<line x1="44.9" y1="428.17" x2="46.4" y2="428.17" stroke="#000" stroke-width="0.6"/>
<line x1="44.9" y1="421.43" x2="46.4" y2="421.43" stroke="#000" stroke-width="0.6"/>
<line x1="44.9" y1="418.06" x2="46.4" y2="418.06" stroke="#000" stroke-width="0.6"/>
<line x1="44.9" y1="414.69" x2="46.4" y2="414.69" stroke="#000" stroke-width="0.6"/>
<line x1="44.9" y1="411.32" x2="46.4" y2="411.32" stroke="#000" stroke-width="0.6"/>
<line x1="44.9" y1="404.58" x2="46.4" y2="404.58" stroke="#000" stroke-width="0.6"/>
<line x1="44.9" y1="401.21" x2="46.4" y2="401.21" stroke="#000" stroke-width="0.6"/>
<line x1="44.9" y1="397.84" x2="46.4" y2="397.84" stroke="#000" stroke-width="0.6"/>
<line x1="44.9" y1="394.47" x2="46.4" y2="394.47" stroke="#000" stroke-width="0.6"/>
<line x1="44.9" y1="387.73" x2="46.4" y2="387.73" stroke="#000" stroke-width="0.6"/>
<line x1="44.9" y1="384.36" x2="46.4" y2="384.36" stroke="#000" stroke-width="0.6"/>
<line x1="44.9" y1="380.99" x2="46.4" y2="380.99" stroke="#000" stroke-width="0.6"/>
<line x1="44.9" y1="377.62" x2="46.4" y2="377.62" stroke="#000" stroke-width="0.6"/>
<line x1="44.9" y1="370.88" x2="46.4" y2="370.88" stroke="#000" stroke-width="0.6"/>
<line x1="44.9" y1="367.51" x2="46.4" y2="367.51" stroke="#000" stroke-width="0.6"/>
<line x1="44.9" y1="364.14" x2="46.4" y2="364.14" stroke="#000" stroke-width="0.6"/>
<line x1="44.9" y1="360.77" x2="46.4" y2="360.77" stroke="#000" stroke-width="0.6"/>
<line x1="44.9" y1="354.03" x2="46.4" y2="354.03" stroke="#000" stroke-width="0.6"/>
<line x1="46.4" y1="458.5" x2="263.4" y2="458.5" stroke="#000" stroke-width="0.9"/>
<line x1="46.40" y1="458.5" x2="46.40" y2="460.1" stroke="#000" stroke-width="0.7"/>
<line x1="53.88" y1="458.5" x2="53.88" y2="460.1" stroke="#000" stroke-width="0.7"/>
<line x1="61.37" y1="458.5" x2="61.37" y2="460.1" stroke="#000" stroke-width="0.7"/>
<line x1="68.85" y1="458.5" x2="68.85" y2="460.1" stroke="#000" stroke-width="0.7"/>
<line x1="76.33" y1="458.5" x2="76.33" y2="460.1" stroke="#000" stroke-width="0.7"/>
<line x1="83.81" y1="458.5" x2="83.81" y2="460.1" stroke="#000" stroke-width="0.7"/>
<line x1="91.30" y1="458.5" x2="91.30" y2="460.1" stroke="#000" stroke-width="0.7"/>
<line x1="98.78" y1="458.5" x2="98.78" y2="460.1" stroke="#000" stroke-width="0.7"/>
<line x1="106.26" y1="458.5" x2="106.26" y2="460.1" stroke="#000" stroke-width="0.7"/>
<line x1="113.74" y1="458.5" x2="113.74" y2="460.1" stroke="#000" stroke-width="0.7"/>
<line x1="121.23" y1="458.5" x2="121.23" y2="460.1" stroke="#000" stroke-width="0.7"/>
<line x1="128.71" y1="458.5" x2="128.71" y2="460.1" stroke="#000" stroke-width="0.7"/>
<line x1="136.19" y1="458.5" x2="136.19" y2="460.1" stroke="#000" stroke-width="0.7"/>
<line x1="143.68" y1="458.5" x2="143.68" y2="460.1" stroke="#000" stroke-width="0.7"/>
<line x1="151.16" y1="458.5" x2="151.16" y2="460.1" stroke="#000" stroke-width="0.7"/>
<line x1="158.64" y1="458.5" x2="158.64" y2="460.1" stroke="#000" stroke-width="0.7"/>
<line x1="166.12" y1="458.5" x2="166.12" y2="460.1" stroke="#000" stroke-width="0.7"/>
<line x1="173.61" y1="458.5" x2="173.61" y2="460.1" stroke="#000" stroke-width="0.7"/>
<line x1="181.09" y1="458.5" x2="181.09" y2="460.1" stroke="#000" stroke-width="0.7"/>
<line x1="188.57" y1="458.5" x2="188.57" y2="460.1" stroke="#000" stroke-width="0.7"/>
<line x1="196.06" y1="458.5" x2="196.06" y2="460.1" stroke="#000" stroke-width="0.7"/>
<line x1="203.54" y1="458.5" x2="203.54" y2="460.1" stroke="#000" stroke-width="0.7"/>
<line x1="211.02" y1="458.5" x2="211.02" y2="460.1" stroke="#000" stroke-width="0.7"/>
<line x1="218.50" y1="458.5" x2="218.50" y2="460.1" stroke="#000" stroke-width="0.7"/>
<line x1="225.99" y1="458.5" x2="225.99" y2="460.1" stroke="#000" stroke-width="0.7"/>
<line x1="233.47" y1="458.5" x2="233.47" y2="460.1" stroke="#000" stroke-width="0.7"/>
<line x1="240.95" y1="458.5" x2="240.95" y2="460.1" stroke="#000" stroke-width="0.7"/>
<line x1="248.43" y1="458.5" x2="248.43" y2="460.1" stroke="#000" stroke-width="0.7"/>
<line x1="255.92" y1="458.5" x2="255.92" y2="460.1" stroke="#000" stroke-width="0.7"/>
<line x1="263.40" y1="458.5" x2="263.40" y2="460.1" stroke="#000" stroke-width="0.7"/>
<text transform="translate(50.94,465.70) rotate(-45)" x="-20.90" y="0" font-size="5.67" fill="#464646" textLength="20.90" lengthAdjust="spacingAndGlyphs">genome</text>
<text transform="translate(58.42,465.70) rotate(-45)" x="-16.70" y="0" font-size="5.67" fill="#464646" textLength="16.70" lengthAdjust="spacingAndGlyphs">ORF1a</text>
<text transform="translate(65.91,465.70) rotate(-45)" x="-20.01" y="0" font-size="5.67" fill="#464646" textLength="20.01" lengthAdjust="spacingAndGlyphs">ORF1ab</text>
<text transform="translate(73.39,465.70) rotate(-45)" x="-13.41" y="0" font-size="5.67" fill="#464646" textLength="13.41" lengthAdjust="spacingAndGlyphs">NSP1</text>
<text transform="translate(80.87,465.70) rotate(-45)" x="-13.41" y="0" font-size="5.67" fill="#464646" textLength="13.41" lengthAdjust="spacingAndGlyphs">NSP2</text>
<text transform="translate(88.36,465.70) rotate(-45)" x="-13.41" y="0" font-size="5.67" fill="#464646" textLength="13.41" lengthAdjust="spacingAndGlyphs">NSP3</text>
<text transform="translate(95.84,465.70) rotate(-45)" x="-13.41" y="0" font-size="5.67" fill="#464646" textLength="13.41" lengthAdjust="spacingAndGlyphs">NSP4</text>
<text transform="translate(103.32,465.70) rotate(-45)" x="-13.41" y="0" font-size="5.67" fill="#464646" textLength="13.41" lengthAdjust="spacingAndGlyphs">NSP5</text>
<text transform="translate(110.80,465.70) rotate(-45)" x="-13.41" y="0" font-size="5.67" fill="#464646" textLength="13.41" lengthAdjust="spacingAndGlyphs">NSP6</text>
<text transform="translate(118.29,465.70) rotate(-45)" x="-13.41" y="0" font-size="5.67" fill="#464646" textLength="13.41" lengthAdjust="spacingAndGlyphs">NSP7</text>
<text transform="translate(125.77,465.70) rotate(-45)" x="-13.41" y="0" font-size="5.67" fill="#464646" textLength="13.41" lengthAdjust="spacingAndGlyphs">NSP8</text>
<text transform="translate(133.25,465.70) rotate(-45)" x="-13.41" y="0" font-size="5.67" fill="#464646" textLength="13.41" lengthAdjust="spacingAndGlyphs">NSP9</text>
<text transform="translate(140.73,465.70) rotate(-45)" x="-16.60" y="0" font-size="5.67" fill="#464646" textLength="16.60" lengthAdjust="spacingAndGlyphs">NSP10</text>
<text transform="translate(148.22,465.70) rotate(-45)" x="-16.60" y="0" font-size="5.67" fill="#464646" textLength="16.60" lengthAdjust="spacingAndGlyphs">NSP11</text>
<text transform="translate(155.70,465.70) rotate(-45)" x="-16.60" y="0" font-size="5.67" fill="#464646" textLength="16.60" lengthAdjust="spacingAndGlyphs">NSP12</text>
<text transform="translate(163.18,465.70) rotate(-45)" x="-16.60" y="0" font-size="5.67" fill="#464646" textLength="16.60" lengthAdjust="spacingAndGlyphs">NSP13</text>
<text transform="translate(170.67,465.70) rotate(-45)" x="-16.60" y="0" font-size="5.67" fill="#464646" textLength="16.60" lengthAdjust="spacingAndGlyphs">NSP14</text>
<text transform="translate(178.15,465.70) rotate(-45)" x="-16.60" y="0" font-size="5.67" fill="#464646" textLength="16.60" lengthAdjust="spacingAndGlyphs">NSP15</text>
<text transform="translate(185.63,465.70) rotate(-45)" x="-16.60" y="0" font-size="5.67" fill="#464646" textLength="16.60" lengthAdjust="spacingAndGlyphs">NSP16</text>
<text transform="translate(193.11,465.70) rotate(-45)" x="-2.89" y="0" font-size="5.67" fill="#464646" textLength="2.89" lengthAdjust="spacingAndGlyphs">S</text>
<text transform="translate(200.60,465.70) rotate(-45)" x="-16.70" y="0" font-size="5.67" fill="#464646" textLength="16.70" lengthAdjust="spacingAndGlyphs">ORF3a</text>
<text transform="translate(208.08,465.70) rotate(-45)" x="-3.08" y="0" font-size="5.67" fill="#464646" textLength="3.08" lengthAdjust="spacingAndGlyphs">E</text>
<text transform="translate(215.56,465.70) rotate(-45)" x="-5.39" y="0" font-size="5.67" fill="#464646" textLength="5.39" lengthAdjust="spacingAndGlyphs">M</text>
<text transform="translate(223.04,465.70) rotate(-45)" x="-13.68" y="0" font-size="5.67" fill="#464646" textLength="13.68" lengthAdjust="spacingAndGlyphs">ORF6</text>
<text transform="translate(230.53,465.70) rotate(-45)" x="-16.70" y="0" font-size="5.67" fill="#464646" textLength="16.70" lengthAdjust="spacingAndGlyphs">ORF7a</text>
<text transform="translate(238.01,465.70) rotate(-45)" x="-16.99" y="0" font-size="5.67" fill="#464646" textLength="16.99" lengthAdjust="spacingAndGlyphs">ORF7b</text>
<text transform="translate(245.49,465.70) rotate(-45)" x="-13.68" y="0" font-size="5.67" fill="#464646" textLength="13.68" lengthAdjust="spacingAndGlyphs">ORF8</text>
<text transform="translate(252.98,465.70) rotate(-45)" x="-4.07" y="0" font-size="5.67" fill="#464646" textLength="4.07" lengthAdjust="spacingAndGlyphs">N</text>
<text transform="translate(260.46,465.70) rotate(-45)" x="-16.87" y="0" font-size="5.67" fill="#464646" textLength="16.87" lengthAdjust="spacingAndGlyphs">ORF10</text>
<text transform="translate(155.00,484.30) scale(0.7983,1)" x="-33.82 -29.62 -24.33 -19.36 -15.16 -12.36 -7.48 -2.66 2.53 5.33 9.97 12.03 16.34 20.89 25.69 30.24" y="0" font-size="7.65" fill="#464646">SARS-CoV-2 genes</text>
<line x1="50.50" y1="444.30" x2="50.50" y2="446.70" stroke="#8a8a8a" stroke-width="1.0"/>
<line x1="49.20" y1="444.30" x2="51.80" y2="444.30" stroke="#404040" stroke-width="0.7"/>
<rect x="48.84" y="446.70" width="2.60" height="11.80" fill="#000"/>
<line x1="57.50" y1="451.60" x2="57.50" y2="452.80" stroke="#8a8a8a" stroke-width="1.0"/>
<line x1="56.20" y1="451.60" x2="58.80" y2="451.60" stroke="#404040" stroke-width="0.7"/>
<rect x="56.32" y="452.80" width="2.60" height="5.70" fill="#000"/>
<line x1="65.50" y1="453.10" x2="65.50" y2="454.10" stroke="#8a8a8a" stroke-width="1.0"/>
<line x1="64.20" y1="453.10" x2="66.80" y2="453.10" stroke="#404040" stroke-width="0.7"/>
<rect x="63.81" y="454.10" width="2.60" height="4.40" fill="#000"/>
<line x1="72.50" y1="397.50" x2="72.50" y2="403.00" stroke="#8a8a8a" stroke-width="1.0"/>
<line x1="71.20" y1="397.50" x2="73.80" y2="397.50" stroke="#404040" stroke-width="0.7"/>
<rect x="71.29" y="403.00" width="2.60" height="55.50" fill="#000"/>
<line x1="80.50" y1="446.30" x2="80.50" y2="448.20" stroke="#8a8a8a" stroke-width="1.0"/>
<line x1="79.20" y1="446.30" x2="81.80" y2="446.30" stroke="#404040" stroke-width="0.7"/>
<rect x="78.77" y="448.20" width="2.60" height="10.30" fill="#000"/>
<line x1="87.50" y1="451.60" x2="87.50" y2="452.20" stroke="#8a8a8a" stroke-width="1.0"/>
<line x1="86.20" y1="451.60" x2="88.80" y2="451.60" stroke="#404040" stroke-width="0.7"/>
<rect x="86.26" y="452.20" width="2.60" height="6.30" fill="#000"/>
<line x1="95.50" y1="447.20" x2="95.50" y2="450.20" stroke="#8a8a8a" stroke-width="1.0"/>
<line x1="94.20" y1="447.20" x2="96.80" y2="447.20" stroke="#404040" stroke-width="0.7"/>
<rect x="93.74" y="450.20" width="2.60" height="8.30" fill="#000"/>
<line x1="102.50" y1="449.20" x2="102.50" y2="451.60" stroke="#8a8a8a" stroke-width="1.0"/>
<line x1="101.20" y1="449.20" x2="103.80" y2="449.20" stroke="#404040" stroke-width="0.7"/>
<rect x="101.22" y="451.60" width="2.60" height="6.90" fill="#000"/>
<line x1="110.50" y1="399.90" x2="110.50" y2="416.30" stroke="#8a8a8a" stroke-width="1.0"/>
<line x1="109.20" y1="399.90" x2="111.80" y2="399.90" stroke="#404040" stroke-width="0.7"/>
<rect x="108.70" y="416.30" width="2.60" height="42.20" fill="#000"/>
<line x1="117.50" y1="424.70" x2="117.50" y2="431.90" stroke="#8a8a8a" stroke-width="1.0"/>
<line x1="116.20" y1="424.70" x2="118.80" y2="424.70" stroke="#404040" stroke-width="0.7"/>
<rect x="116.19" y="431.90" width="2.60" height="26.60" fill="#000"/>
<line x1="124.50" y1="451.90" x2="124.50" y2="453.60" stroke="#8a8a8a" stroke-width="1.0"/>
<line x1="123.20" y1="451.90" x2="125.80" y2="451.90" stroke="#404040" stroke-width="0.7"/>
<rect x="123.67" y="453.60" width="2.60" height="4.90" fill="#000"/>
<line x1="132.50" y1="434.30" x2="132.50" y2="438.70" stroke="#8a8a8a" stroke-width="1.0"/>
<line x1="131.20" y1="434.30" x2="133.80" y2="434.30" stroke="#404040" stroke-width="0.7"/>
<rect x="131.15" y="438.70" width="2.60" height="19.80" fill="#000"/>
<line x1="139.50" y1="447.60" x2="139.50" y2="450.50" stroke="#8a8a8a" stroke-width="1.0"/>
<line x1="138.20" y1="447.60" x2="140.80" y2="447.60" stroke="#404040" stroke-width="0.7"/>
<rect x="138.63" y="450.50" width="2.60" height="8.00" fill="#000"/>
<line x1="154.50" y1="451.20" x2="154.50" y2="452.40" stroke="#8a8a8a" stroke-width="1.0"/>
<line x1="153.20" y1="451.20" x2="155.80" y2="451.20" stroke="#404040" stroke-width="0.7"/>
<rect x="153.60" y="452.40" width="2.60" height="6.10" fill="#000"/>
<line x1="162.50" y1="449.30" x2="162.50" y2="450.70" stroke="#8a8a8a" stroke-width="1.0"/>
<line x1="161.20" y1="449.30" x2="163.80" y2="449.30" stroke="#404040" stroke-width="0.7"/>
<rect x="161.08" y="450.70" width="2.60" height="7.80" fill="#000"/>
<line x1="169.50" y1="448.30" x2="169.50" y2="450.00" stroke="#8a8a8a" stroke-width="1.0"/>
<line x1="168.20" y1="448.30" x2="170.80" y2="448.30" stroke="#404040" stroke-width="0.7"/>
<rect x="168.57" y="450.00" width="2.60" height="8.50" fill="#000"/>
<line x1="177.50" y1="442.80" x2="177.50" y2="445.70" stroke="#8a8a8a" stroke-width="1.0"/>
<line x1="176.20" y1="442.80" x2="178.80" y2="442.80" stroke="#404040" stroke-width="0.7"/>
<rect x="176.05" y="445.70" width="2.60" height="12.80" fill="#000"/>
<line x1="184.50" y1="449.40" x2="184.50" y2="451.00" stroke="#8a8a8a" stroke-width="1.0"/>
<line x1="183.20" y1="449.40" x2="185.80" y2="449.40" stroke="#404040" stroke-width="0.7"/>
<rect x="183.53" y="451.00" width="2.60" height="7.50" fill="#000"/>
<line x1="192.50" y1="395.80" x2="192.50" y2="407.90" stroke="#8a8a8a" stroke-width="1.0"/>
<line x1="191.20" y1="395.80" x2="193.80" y2="395.80" stroke="#404040" stroke-width="0.7"/>
<rect x="191.01" y="407.90" width="2.60" height="50.60" fill="#000"/>
<line x1="199.50" y1="395.30" x2="199.50" y2="401.90" stroke="#8a8a8a" stroke-width="1.0"/>
<line x1="198.20" y1="395.30" x2="200.80" y2="395.30" stroke="#404040" stroke-width="0.7"/>
<rect x="198.50" y="401.90" width="2.60" height="56.60" fill="#000"/>
<line x1="207.50" y1="422.50" x2="207.50" y2="429.50" stroke="#8a8a8a" stroke-width="1.0"/>
<line x1="206.20" y1="422.50" x2="208.80" y2="422.50" stroke="#404040" stroke-width="0.7"/>
<rect x="205.98" y="429.50" width="2.60" height="29.00" fill="#000"/>
<line x1="214.50" y1="438.80" x2="214.50" y2="443.90" stroke="#8a8a8a" stroke-width="1.0"/>
<line x1="213.20" y1="438.80" x2="215.80" y2="438.80" stroke="#404040" stroke-width="0.7"/>
<rect x="213.46" y="443.90" width="2.60" height="14.60" fill="#000"/>
<line x1="222.50" y1="370.40" x2="222.50" y2="386.00" stroke="#8a8a8a" stroke-width="1.0"/>
<line x1="221.20" y1="370.40" x2="223.80" y2="370.40" stroke="#404040" stroke-width="0.7"/>
<rect x="220.94" y="386.00" width="2.60" height="72.50" fill="#000"/>
<line x1="229.50" y1="424.70" x2="229.50" y2="431.10" stroke="#8a8a8a" stroke-width="1.0"/>
<line x1="228.20" y1="424.70" x2="230.80" y2="424.70" stroke="#404040" stroke-width="0.7"/>
<rect x="228.43" y="431.10" width="2.60" height="27.40" fill="#000"/>
<line x1="237.50" y1="425.60" x2="237.50" y2="433.50" stroke="#8a8a8a" stroke-width="1.0"/>
<line x1="236.20" y1="425.60" x2="238.80" y2="425.60" stroke="#404040" stroke-width="0.7"/>
<rect x="235.91" y="433.50" width="2.60" height="25.00" fill="#000"/>
<line x1="244.50" y1="382.50" x2="244.50" y2="394.90" stroke="#8a8a8a" stroke-width="1.0"/>
<line x1="243.20" y1="382.50" x2="245.80" y2="382.50" stroke="#404040" stroke-width="0.7"/>
<rect x="243.39" y="394.90" width="2.60" height="63.60" fill="#000"/>
<line x1="252.50" y1="415.20" x2="252.50" y2="424.00" stroke="#8a8a8a" stroke-width="1.0"/>
<line x1="251.20" y1="415.20" x2="253.80" y2="415.20" stroke="#404040" stroke-width="0.7"/>
<rect x="250.88" y="424.00" width="2.60" height="34.50" fill="#000"/>
<line x1="259.50" y1="424.50" x2="259.50" y2="430.20" stroke="#8a8a8a" stroke-width="1.0"/>
<line x1="258.20" y1="424.50" x2="260.80" y2="424.50" stroke="#404040" stroke-width="0.7"/>
<rect x="258.36" y="430.20" width="2.60" height="28.30" fill="#000"/>
<rect x="276.5" y="170.5" width="265.5" height="159.5" fill="#fff" stroke="#d9d9d9" stroke-width="1"/>
<text x="281.3" y="186.3" font-size="16.5" font-weight="bold" fill="#000" textLength="10.68" lengthAdjust="spacingAndGlyphs">d</text>
<text transform="translate(293.60,186.20) scale(0.8435,1)" x="0.00 4.98 11.25 17.13 22.11 25.43 31.21 36.92 43.07 46.38 51.88 54.33 59.22 64.41 68.19 70.67 75.86 81.56 85.19 89.42 92.32 94.77 103.43 108.82 114.01 119.70 122.15 127.85 131.48 133.93 142.58 148.27 151.90 159.65 162.10 167.80 173.19 176.97 179.42 184.52 189.91 195.60 200.99 205.18 212.18 217.16 222.75 226.07 230.65 236.37 242.06 244.55 250.24 255.34 257.79 261.57 266.96 272.06 274.54 280.26" y="0" font-size="9.69" fill="#464646">SARS-CoV-2 variants: mean nt mut% per gene/NSP-coding region</text>
<text transform="translate(285.60,239.50) rotate(-90)" x="-12.98" y="0" font-size="7.95" fill="#464646" textLength="25.96" lengthAdjust="spacingAndGlyphs">nt mut%</text>
<line x1="307.5" y1="191.4" x2="307.5" y2="287.7" stroke="#000" stroke-width="0.9"/>
<line x1="305.3" y1="287.70" x2="309.7" y2="287.70" stroke="#000" stroke-width="0.8"/>
<text transform="translate(301.00,289.90) scale(0.8201,1)" x="-15.95 -11.87 -9.84 -5.76" y="0" font-size="7.00" fill="#464646">0.0%</text>
<line x1="307.5" y1="261.00" x2="533" y2="261.00" stroke="#d9d9d9" stroke-width="0.8"/>
<line x1="305.3" y1="261.00" x2="309.7" y2="261.00" stroke="#000" stroke-width="0.8"/>
<text transform="translate(301.00,263.20) scale(0.8201,1)" x="-15.95 -11.87 -9.84 -5.76" y="0" font-size="7.00" fill="#464646">0.5%</text>
<line x1="307.5" y1="234.30" x2="533" y2="234.30" stroke="#d9d9d9" stroke-width="0.8"/>
<line x1="305.3" y1="234.30" x2="309.7" y2="234.30" stroke="#000" stroke-width="0.8"/>
<text transform="translate(301.00,236.50) scale(0.8201,1)" x="-15.95 -11.87 -9.84 -5.76" y="0" font-size="7.00" fill="#464646">1.0%</text>
<line x1="307.5" y1="207.60" x2="533" y2="207.60" stroke="#d9d9d9" stroke-width="0.8"/>
<line x1="305.3" y1="207.60" x2="309.7" y2="207.60" stroke="#000" stroke-width="0.8"/>
<text transform="translate(301.00,209.80) scale(0.8201,1)" x="-15.95 -11.87 -9.84 -5.76" y="0" font-size="7.00" fill="#464646">1.5%</text>
<line x1="306.0" y1="282.36" x2="307.5" y2="282.36" stroke="#000" stroke-width="0.6"/>
<line x1="306.0" y1="277.02" x2="307.5" y2="277.02" stroke="#000" stroke-width="0.6"/>
<line x1="306.0" y1="271.68" x2="307.5" y2="271.68" stroke="#000" stroke-width="0.6"/>
<line x1="306.0" y1="266.34" x2="307.5" y2="266.34" stroke="#000" stroke-width="0.6"/>
<line x1="306.0" y1="255.66" x2="307.5" y2="255.66" stroke="#000" stroke-width="0.6"/>
<line x1="306.0" y1="250.32" x2="307.5" y2="250.32" stroke="#000" stroke-width="0.6"/>
<line x1="306.0" y1="244.98" x2="307.5" y2="244.98" stroke="#000" stroke-width="0.6"/>
<line x1="306.0" y1="239.64" x2="307.5" y2="239.64" stroke="#000" stroke-width="0.6"/>
<line x1="306.0" y1="228.96" x2="307.5" y2="228.96" stroke="#000" stroke-width="0.6"/>
<line x1="306.0" y1="223.62" x2="307.5" y2="223.62" stroke="#000" stroke-width="0.6"/>
<line x1="306.0" y1="218.28" x2="307.5" y2="218.28" stroke="#000" stroke-width="0.6"/>
<line x1="306.0" y1="212.94" x2="307.5" y2="212.94" stroke="#000" stroke-width="0.6"/>
<line x1="306.0" y1="202.26" x2="307.5" y2="202.26" stroke="#000" stroke-width="0.6"/>
<line x1="306.0" y1="196.92" x2="307.5" y2="196.92" stroke="#000" stroke-width="0.6"/>
<line x1="306.0" y1="191.58" x2="307.5" y2="191.58" stroke="#000" stroke-width="0.6"/>
<line x1="307.5" y1="287.7" x2="533" y2="287.7" stroke="#000" stroke-width="0.9"/>
<line x1="307.50" y1="287.7" x2="307.50" y2="289.3" stroke="#000" stroke-width="0.7"/>
<line x1="324.85" y1="287.7" x2="324.85" y2="289.3" stroke="#000" stroke-width="0.7"/>
<line x1="342.19" y1="287.7" x2="342.19" y2="289.3" stroke="#000" stroke-width="0.7"/>
<line x1="359.54" y1="287.7" x2="359.54" y2="289.3" stroke="#000" stroke-width="0.7"/>
<line x1="376.88" y1="287.7" x2="376.88" y2="289.3" stroke="#000" stroke-width="0.7"/>
<line x1="394.23" y1="287.7" x2="394.23" y2="289.3" stroke="#000" stroke-width="0.7"/>
<line x1="411.58" y1="287.7" x2="411.58" y2="289.3" stroke="#000" stroke-width="0.7"/>
<line x1="428.92" y1="287.7" x2="428.92" y2="289.3" stroke="#000" stroke-width="0.7"/>
<line x1="446.27" y1="287.7" x2="446.27" y2="289.3" stroke="#000" stroke-width="0.7"/>
<line x1="463.62" y1="287.7" x2="463.62" y2="289.3" stroke="#000" stroke-width="0.7"/>
<line x1="480.96" y1="287.7" x2="480.96" y2="289.3" stroke="#000" stroke-width="0.7"/>
<line x1="498.31" y1="287.7" x2="498.31" y2="289.3" stroke="#000" stroke-width="0.7"/>
<line x1="515.65" y1="287.7" x2="515.65" y2="289.3" stroke="#000" stroke-width="0.7"/>
<line x1="533.00" y1="287.7" x2="533.00" y2="289.3" stroke="#000" stroke-width="0.7"/>
<text transform="translate(317.97,295.30) rotate(-45)" x="-9.96" y="0" font-size="6.78" fill="#464646" textLength="9.96" lengthAdjust="spacingAndGlyphs">omi</text>
<text transform="translate(335.32,295.30) rotate(-45)" x="-10.16" y="0" font-size="6.78" fill="#464646" textLength="10.16" lengthAdjust="spacingAndGlyphs">delt</text>
<text transform="translate(352.67,295.30) rotate(-45)" x="-11.26" y="0" font-size="6.78" fill="#464646" textLength="11.26" lengthAdjust="spacingAndGlyphs">alph</text>
<text transform="translate(370.01,295.30) rotate(-45)" x="-11.76" y="0" font-size="6.78" fill="#464646" textLength="11.76" lengthAdjust="spacingAndGlyphs">beta</text>
<text transform="translate(387.36,295.30) rotate(-45)" x="-16.30" y="0" font-size="6.78" fill="#464646" textLength="16.30" lengthAdjust="spacingAndGlyphs">gamm</text>
<text transform="translate(404.70,295.30) rotate(-45)" x="-10.52" y="0" font-size="6.78" fill="#464646" textLength="10.52" lengthAdjust="spacingAndGlyphs">epsi</text>
<text transform="translate(422.05,295.30) rotate(-45)" x="-10.92" y="0" font-size="6.78" fill="#464646" textLength="10.92" lengthAdjust="spacingAndGlyphs">zeta</text>
<text transform="translate(439.40,295.30) rotate(-45)" x="-8.39" y="0" font-size="6.78" fill="#464646" textLength="8.39" lengthAdjust="spacingAndGlyphs">eta</text>
<text transform="translate(456.74,295.30) rotate(-45)" x="-10.83" y="0" font-size="6.78" fill="#464646" textLength="10.83" lengthAdjust="spacingAndGlyphs">thet</text>
<text transform="translate(474.09,295.30) rotate(-45)" x="-10.05" y="0" font-size="6.78" fill="#464646" textLength="10.05" lengthAdjust="spacingAndGlyphs">iota</text>
<text transform="translate(491.43,295.30) rotate(-45)" x="-12.70" y="0" font-size="6.78" fill="#464646" textLength="12.70" lengthAdjust="spacingAndGlyphs">kapp</text>
<text transform="translate(508.78,295.30) rotate(-45)" x="-13.01" y="0" font-size="6.78" fill="#464646" textLength="13.01" lengthAdjust="spacingAndGlyphs">lamb</text>
<text transform="translate(526.13,295.30) rotate(-45)" x="-8.48" y="0" font-size="6.78" fill="#464646" textLength="8.48" lengthAdjust="spacingAndGlyphs">mu</text>
<text transform="translate(420.30,311.30) scale(0.8194,1)" x="-36.79 -32.70 -27.54 -22.70 -18.60 -15.87 -11.12 -6.41 -1.35 1.38 5.89 7.91 11.94 16.21 19.32 21.36 25.63 30.32 33.31" y="0" font-size="7.65" fill="#464646">SARS-CoV-2 variants</text>
<circle cx="316.17" cy="225.22" r="2.85" fill="none" stroke="#ff4d4d" stroke-width="0.85"/>
<circle cx="333.52" cy="279.16" r="2.85" fill="none" stroke="#ff4d4d" stroke-width="0.85"/>
<circle cx="350.87" cy="230.56" r="2.85" fill="none" stroke="#ff4d4d" stroke-width="0.85"/>
<circle cx="368.21" cy="230.56" r="2.85" fill="none" stroke="#ff4d4d" stroke-width="0.85"/>
<circle cx="385.56" cy="230.56" r="2.85" fill="none" stroke="#ff4d4d" stroke-width="0.85"/>
<circle cx="402.90" cy="283.43" r="2.85" fill="none" stroke="#ff4d4d" stroke-width="0.85"/>
<circle cx="420.25" cy="280.76" r="2.85" fill="none" stroke="#ff4d4d" stroke-width="0.85"/>
<circle cx="437.60" cy="230.56" r="2.85" fill="none" stroke="#ff4d4d" stroke-width="0.85"/>
<circle cx="454.94" cy="281.83" r="2.85" fill="none" stroke="#ff4d4d" stroke-width="0.85"/>
<circle cx="472.29" cy="230.56" r="2.85" fill="none" stroke="#ff4d4d" stroke-width="0.85"/>
<circle cx="489.63" cy="283.43" r="2.85" fill="none" stroke="#ff4d4d" stroke-width="0.85"/>
<circle cx="506.98" cy="230.56" r="2.85" fill="none" stroke="#ff4d4d" stroke-width="0.85"/>
<circle cx="524.33" cy="282.36" r="2.85" fill="none" stroke="#ff4d4d" stroke-width="0.85"/>
<path d="M313.17 286.63L319.17 286.63" stroke="#ff4d4d" stroke-width="1.36"/>
<path d="M330.52 287.70L336.52 287.70" stroke="#ff4d4d" stroke-width="1.36"/>
<path d="M347.87 287.70L353.87 287.70" stroke="#ff4d4d" stroke-width="1.36"/>
<path d="M365.21 287.70L371.21 287.70" stroke="#ff4d4d" stroke-width="1.36"/>
<path d="M382.56 287.70L388.56 287.70" stroke="#ff4d4d" stroke-width="1.36"/>
<path d="M399.90 287.70L405.90 287.70" stroke="#ff4d4d" stroke-width="1.36"/>
<path d="M417.25 263.14L423.25 263.14" stroke="#ff4d4d" stroke-width="1.36"/>
<path d="M434.60 287.70L440.60 287.70" stroke="#ff4d4d" stroke-width="1.36"/>
<path d="M451.94 244.98L457.94 244.98" stroke="#ff4d4d" stroke-width="1.36"/>
<path d="M469.29 287.70L475.29 287.70" stroke="#ff4d4d" stroke-width="1.36"/>
<path d="M486.63 287.70L492.63 287.70" stroke="#ff4d4d" stroke-width="1.36"/>
<path d="M503.98 287.70L509.98 287.70" stroke="#ff4d4d" stroke-width="1.36"/>
<path d="M521.33 287.70L527.33 287.70" stroke="#ff4d4d" stroke-width="1.36"/>
<rect x="313.62" y="205.05" width="5.10" height="5.10" fill="none" stroke="#ff4d4d" stroke-width="0.85"/>
<rect x="330.97" y="266.46" width="5.10" height="5.10" fill="none" stroke="#ff4d4d" stroke-width="0.85"/>
<rect x="348.32" y="261.12" width="5.10" height="5.10" fill="none" stroke="#ff4d4d" stroke-width="0.85"/>
<rect x="365.66" y="261.12" width="5.10" height="5.10" fill="none" stroke="#ff4d4d" stroke-width="0.85"/>
<rect x="383.01" y="266.46" width="5.10" height="5.10" fill="none" stroke="#ff4d4d" stroke-width="0.85"/>
<rect x="400.35" y="283.55" width="5.10" height="5.10" fill="none" stroke="#ff4d4d" stroke-width="0.85"/>
<rect x="417.70" y="283.55" width="5.10" height="5.10" fill="none" stroke="#ff4d4d" stroke-width="0.85"/>
<rect x="435.05" y="283.55" width="5.10" height="5.10" fill="none" stroke="#ff4d4d" stroke-width="0.85"/>
<rect x="452.39" y="246.17" width="5.10" height="5.10" fill="none" stroke="#ff4d4d" stroke-width="0.85"/>
<rect x="469.74" y="283.01" width="5.10" height="5.10" fill="none" stroke="#ff4d4d" stroke-width="0.85"/>
<rect x="487.08" y="282.48" width="5.10" height="5.10" fill="none" stroke="#ff4d4d" stroke-width="0.85"/>
<rect x="504.43" y="247.77" width="5.10" height="5.10" fill="none" stroke="#ff4d4d" stroke-width="0.85"/>
<rect x="521.78" y="263.79" width="5.10" height="5.10" fill="none" stroke="#ff4d4d" stroke-width="0.85"/>
<path d="M316.17 277.76L319.17 283.16L313.17 283.16Z" fill="none" stroke="#ff4d4d" stroke-width="0.85"/>
<path d="M333.52 282.03L336.52 287.43L330.52 287.43Z" fill="none" stroke="#ff4d4d" stroke-width="0.85"/>
<path d="M350.87 282.56L353.87 287.96L347.87 287.96Z" fill="none" stroke="#ff4d4d" stroke-width="0.85"/>
<path d="M368.21 283.10L371.21 288.50L365.21 288.50Z" fill="none" stroke="#ff4d4d" stroke-width="0.85"/>
<path d="M385.56 275.62L388.56 281.02L382.56 281.02Z" fill="none" stroke="#ff4d4d" stroke-width="0.85"/>
<path d="M402.90 278.29L405.90 283.69L399.90 283.69Z" fill="none" stroke="#ff4d4d" stroke-width="0.85"/>
<path d="M420.25 283.63L423.25 289.03L417.25 289.03Z" fill="none" stroke="#ff4d4d" stroke-width="0.85"/>
<path d="M437.60 283.63L440.60 289.03L434.60 289.03Z" fill="none" stroke="#ff4d4d" stroke-width="0.85"/>
<path d="M454.94 283.63L457.94 289.03L451.94 289.03Z" fill="none" stroke="#ff4d4d" stroke-width="0.85"/>
<path d="M472.29 270.28L475.29 275.68L469.29 275.68Z" fill="none" stroke="#ff4d4d" stroke-width="0.85"/>
<path d="M489.63 278.83L492.63 284.23L486.63 284.23Z" fill="none" stroke="#ff4d4d" stroke-width="0.85"/>
<path d="M506.98 282.56L509.98 287.96L503.98 287.96Z" fill="none" stroke="#ff4d4d" stroke-width="0.85"/>
<path d="M524.33 254.80L527.33 260.20L521.33 260.20Z" fill="none" stroke="#ff4d4d" stroke-width="0.85"/>
<path d="M313.17 261.20L319.17 267.20M319.17 261.20L313.17 267.20" stroke="#ff4d4d" stroke-width="0.85"/>
<path d="M330.52 284.70L336.52 290.70M336.52 284.70L330.52 290.70" stroke="#ff4d4d" stroke-width="0.85"/>
<path d="M347.87 284.70L353.87 290.70M353.87 284.70L347.87 290.70" stroke="#ff4d4d" stroke-width="0.85"/>
<path d="M365.21 258.00L371.21 264.00M371.21 258.00L365.21 264.00" stroke="#ff4d4d" stroke-width="0.85"/>
<path d="M382.56 284.70L388.56 290.70M388.56 284.70L382.56 290.70" stroke="#ff4d4d" stroke-width="0.85"/>
<path d="M399.90 274.55L405.90 280.55M405.90 274.55L399.90 280.55" stroke="#ff4d4d" stroke-width="0.85"/>
<path d="M417.25 284.70L423.25 290.70M423.25 284.70L417.25 290.70" stroke="#ff4d4d" stroke-width="0.85"/>
<path d="M434.60 260.67L440.60 266.67M440.60 260.67L434.60 266.67" stroke="#ff4d4d" stroke-width="0.85"/>
<path d="M451.94 284.70L457.94 290.70M457.94 284.70L451.94 290.70" stroke="#ff4d4d" stroke-width="0.85"/>
<path d="M469.29 284.70L475.29 290.70M475.29 284.70L469.29 290.70" stroke="#ff4d4d" stroke-width="0.85"/>
<path d="M486.63 274.02L492.63 280.02M492.63 274.02L486.63 280.02" stroke="#ff4d4d" stroke-width="0.85"/>
<path d="M503.98 284.70L509.98 290.70M509.98 284.70L503.98 290.70" stroke="#ff4d4d" stroke-width="0.85"/>
<path d="M521.33 284.70L527.33 290.70M527.33 284.70L521.33 290.70" stroke="#ff4d4d" stroke-width="0.85"/>
<path d="M313.17 264.20L319.17 264.20M316.17 261.20L316.17 267.20" stroke="#ff4d4d" stroke-width="0.85"/>
<path d="M330.52 286.63L336.52 286.63M333.52 283.63L333.52 289.63" stroke="#ff4d4d" stroke-width="0.85"/>
<path d="M347.87 287.17L353.87 287.17M350.87 284.17L350.87 290.17" stroke="#ff4d4d" stroke-width="0.85"/>
<path d="M365.21 287.70L371.21 287.70M368.21 284.70L368.21 290.70" stroke="#ff4d4d" stroke-width="0.85"/>
<path d="M382.56 287.70L388.56 287.70M385.56 284.70L385.56 290.70" stroke="#ff4d4d" stroke-width="0.85"/>
<path d="M399.90 287.70L405.90 287.70M402.90 284.70L402.90 290.70" stroke="#ff4d4d" stroke-width="0.85"/>
<path d="M417.25 287.70L423.25 287.70M420.25 284.70L420.25 290.70" stroke="#ff4d4d" stroke-width="0.85"/>
<path d="M434.60 279.16L440.60 279.16M437.60 276.16L437.60 282.16" stroke="#ff4d4d" stroke-width="0.85"/>
<path d="M451.94 287.70L457.94 287.70M454.94 284.70L454.94 290.70" stroke="#ff4d4d" stroke-width="0.85"/>
<path d="M469.29 287.70L475.29 287.70M472.29 284.70L472.29 290.70" stroke="#ff4d4d" stroke-width="0.85"/>
<path d="M486.63 287.70L492.63 287.70M489.63 284.70L489.63 290.70" stroke="#ff4d4d" stroke-width="0.85"/>
<path d="M503.98 280.22L509.98 280.22M506.98 277.22L506.98 283.22" stroke="#ff4d4d" stroke-width="0.85"/>
<path d="M521.33 286.63L527.33 286.63M524.33 283.63L524.33 289.63" stroke="#ff4d4d" stroke-width="0.85"/>
<circle cx="316.17" cy="258.86" r="2.85" fill="none" stroke="#404040" stroke-width="0.85"/>
<circle cx="333.52" cy="273.28" r="2.85" fill="none" stroke="#404040" stroke-width="0.85"/>
<circle cx="350.87" cy="285.03" r="2.85" fill="none" stroke="#404040" stroke-width="0.85"/>
<circle cx="368.21" cy="285.03" r="2.85" fill="none" stroke="#404040" stroke-width="0.85"/>
<circle cx="385.56" cy="286.63" r="2.85" fill="none" stroke="#404040" stroke-width="0.85"/>
<circle cx="402.90" cy="284.50" r="2.85" fill="none" stroke="#404040" stroke-width="0.85"/>
<circle cx="420.25" cy="285.03" r="2.85" fill="none" stroke="#404040" stroke-width="0.85"/>
<circle cx="437.60" cy="199.06" r="2.85" fill="none" stroke="#404040" stroke-width="0.85"/>
<circle cx="454.94" cy="285.56" r="2.85" fill="none" stroke="#404040" stroke-width="0.85"/>
<circle cx="472.29" cy="282.36" r="2.85" fill="none" stroke="#404040" stroke-width="0.85"/>
<circle cx="489.63" cy="279.69" r="2.85" fill="none" stroke="#404040" stroke-width="0.85"/>
<circle cx="506.98" cy="286.10" r="2.85" fill="none" stroke="#404040" stroke-width="0.85"/>
<circle cx="524.33" cy="285.56" r="2.85" fill="none" stroke="#404040" stroke-width="0.85"/>
<rect x="313.62" y="284.08" width="5.10" height="5.10" fill="none" stroke="#404040" stroke-width="0.85"/>
<rect x="330.97" y="253.64" width="5.10" height="5.10" fill="none" stroke="#404040" stroke-width="0.85"/>
<rect x="348.32" y="283.01" width="5.10" height="5.10" fill="none" stroke="#404040" stroke-width="0.85"/>
<rect x="365.66" y="283.55" width="5.10" height="5.10" fill="none" stroke="#404040" stroke-width="0.85"/>
<rect x="383.01" y="280.88" width="5.10" height="5.10" fill="none" stroke="#404040" stroke-width="0.85"/>
<rect x="400.35" y="284.08" width="5.10" height="5.10" fill="none" stroke="#404040" stroke-width="0.85"/>
<rect x="417.70" y="282.48" width="5.10" height="5.10" fill="none" stroke="#404040" stroke-width="0.85"/>
<rect x="435.05" y="280.88" width="5.10" height="5.10" fill="none" stroke="#404040" stroke-width="0.85"/>
<rect x="452.39" y="283.55" width="5.10" height="5.10" fill="none" stroke="#404040" stroke-width="0.85"/>
<rect x="469.74" y="283.01" width="5.10" height="5.10" fill="none" stroke="#404040" stroke-width="0.85"/>
<rect x="487.08" y="266.99" width="5.10" height="5.10" fill="none" stroke="#404040" stroke-width="0.85"/>
<rect x="504.43" y="284.62" width="5.10" height="5.10" fill="none" stroke="#404040" stroke-width="0.85"/>
<rect x="521.78" y="283.55" width="5.10" height="5.10" fill="none" stroke="#404040" stroke-width="0.85"/>
<path d="M316.17 244.12L319.17 247.12L316.17 250.12L313.17 247.12Z" fill="none" stroke="#404040" stroke-width="0.85"/>
<path d="M333.52 272.95L336.52 275.95L333.52 278.95L330.52 275.95Z" fill="none" stroke="#404040" stroke-width="0.85"/>
<path d="M350.87 283.10L353.87 286.10L350.87 289.10L347.87 286.10Z" fill="none" stroke="#404040" stroke-width="0.85"/>
<path d="M368.21 283.63L371.21 286.63L368.21 289.63L365.21 286.63Z" fill="none" stroke="#404040" stroke-width="0.85"/>
<path d="M385.56 284.17L388.56 287.17L385.56 290.17L382.56 287.17Z" fill="none" stroke="#404040" stroke-width="0.85"/>
<path d="M402.90 284.17L405.90 287.17L402.90 290.17L399.90 287.17Z" fill="none" stroke="#404040" stroke-width="0.85"/>
<path d="M420.25 284.17L423.25 287.17L420.25 290.17L417.25 287.17Z" fill="none" stroke="#404040" stroke-width="0.85"/>
<path d="M437.60 284.17L440.60 287.17L437.60 290.17L434.60 287.17Z" fill="none" stroke="#404040" stroke-width="0.85"/>
<path d="M454.94 284.17L457.94 287.17L454.94 290.17L451.94 287.17Z" fill="none" stroke="#404040" stroke-width="0.85"/>
<path d="M472.29 284.17L475.29 287.17L472.29 290.17L469.29 287.17Z" fill="none" stroke="#404040" stroke-width="0.85"/>
<path d="M489.63 284.70L492.63 287.70L489.63 290.70L486.63 287.70Z" fill="none" stroke="#404040" stroke-width="0.85"/>
<path d="M506.98 283.63L509.98 286.63L506.98 289.63L503.98 286.63Z" fill="none" stroke="#404040" stroke-width="0.85"/>
<path d="M524.33 284.17L527.33 287.17L524.33 290.17L521.33 287.17Z" fill="none" stroke="#404040" stroke-width="0.85"/>
<path d="M316.17 281.50L319.17 286.90L313.17 286.90Z" fill="none" stroke="#404040" stroke-width="0.85"/>
<path d="M333.52 268.68L336.52 274.08L330.52 274.08Z" fill="none" stroke="#404040" stroke-width="0.85"/>
<path d="M350.87 232.37L353.87 237.77L347.87 237.77Z" fill="none" stroke="#404040" stroke-width="0.85"/>
<path d="M368.21 270.28L371.21 275.68L365.21 275.68Z" fill="none" stroke="#404040" stroke-width="0.85"/>
<path d="M385.56 265.48L388.56 270.88L382.56 270.88Z" fill="none" stroke="#404040" stroke-width="0.85"/>
<path d="M402.90 283.10L405.90 288.50L399.90 288.50Z" fill="none" stroke="#404040" stroke-width="0.85"/>
<path d="M420.25 269.21L423.25 274.61L417.25 274.61Z" fill="none" stroke="#404040" stroke-width="0.85"/>
<path d="M437.60 283.10L440.60 288.50L434.60 288.50Z" fill="none" stroke="#404040" stroke-width="0.85"/>
<path d="M454.94 258.00L457.94 263.40L451.94 263.40Z" fill="none" stroke="#404040" stroke-width="0.85"/>
<path d="M472.29 265.48L475.29 270.88L469.29 270.88Z" fill="none" stroke="#404040" stroke-width="0.85"/>
<path d="M489.63 276.16L492.63 281.56L486.63 281.56Z" fill="none" stroke="#404040" stroke-width="0.85"/>
<path d="M506.98 267.61L509.98 273.01L503.98 273.01Z" fill="none" stroke="#404040" stroke-width="0.85"/>
<path d="M524.33 244.12L527.33 249.52L521.33 249.52Z" fill="none" stroke="#404040" stroke-width="0.85"/>
<path d="M313.17 229.70L319.17 235.70M319.17 229.70L313.17 235.70" stroke="#404040" stroke-width="0.85"/>
<path d="M330.52 268.68L336.52 274.68M336.52 268.68L330.52 274.68" stroke="#404040" stroke-width="0.85"/>
<path d="M347.87 253.73L353.87 259.73M353.87 253.73L347.87 259.73" stroke="#404040" stroke-width="0.85"/>
<path d="M365.21 277.22L371.21 283.22M371.21 277.22L365.21 283.22" stroke="#404040" stroke-width="0.85"/>
<path d="M382.56 259.60L388.56 265.60M388.56 259.60L382.56 265.60" stroke="#404040" stroke-width="0.85"/>
<path d="M399.90 274.55L405.90 280.55M405.90 274.55L399.90 280.55" stroke="#404040" stroke-width="0.85"/>
<path d="M417.25 263.34L423.25 269.34M423.25 263.34L417.25 269.34" stroke="#404040" stroke-width="0.85"/>
<path d="M434.60 260.67L440.60 266.67M440.60 260.67L434.60 266.67" stroke="#404040" stroke-width="0.85"/>
<path d="M451.94 269.21L457.94 275.21M457.94 269.21L451.94 275.21" stroke="#404040" stroke-width="0.85"/>
<path d="M469.29 275.09L475.29 281.09M475.29 275.09L469.29 281.09" stroke="#404040" stroke-width="0.85"/>
<path d="M486.63 271.88L492.63 277.88M492.63 271.88L486.63 277.88" stroke="#404040" stroke-width="0.85"/>
<path d="M503.98 254.80L509.98 260.80M509.98 254.80L503.98 260.80" stroke="#404040" stroke-width="0.85"/>
<path d="M521.33 274.55L527.33 280.55M527.33 274.55L521.33 280.55" stroke="#404040" stroke-width="0.85"/>
<circle cx="287.00" cy="320.60" r="1.80" fill="none" stroke="#ff4d4d" stroke-width="0.75"/>
<text transform="translate(290.40,322.90) scale(0.7807,1)" x="0.00 5.71 9.78 14.35" y="0" font-size="7.21" fill="#464646">NSP6</text>
<path d="M311.10 320.60L314.90 320.60" stroke="#ff4d4d" stroke-width="1.2000000000000002"/>
<text transform="translate(316.20,322.90) scale(0.7807,1)" x="0.00 5.71 9.78 14.35" y="0" font-size="7.21" fill="#464646">NSP7</text>
<rect x="337.38" y="318.99" width="3.23" height="3.23" fill="none" stroke="#ff4d4d" stroke-width="0.75"/>
<text transform="translate(343.00,322.90) scale(0.7488,1)" x="0.00" y="0" font-size="7.21" fill="#464646">S</text>
<path d="M354.50 318.70L356.40 322.12L352.60 322.12Z" fill="none" stroke="#ff4d4d" stroke-width="0.75"/>
<text transform="translate(358.20,322.90) scale(0.7145,1)" x="0.00 5.80 10.56 14.59 19.03" y="0" font-size="7.21" fill="#464646">ORF3a</text>
<path d="M382.60 318.70L386.40 322.50M386.40 318.70L382.60 322.50" stroke="#ff4d4d" stroke-width="0.75"/>
<text transform="translate(387.70,322.90) scale(0.7488,1)" x="0.00" y="0" font-size="7.21" fill="#464646">E</text>
<path d="M397.30 320.60L401.10 320.60M399.20 318.70L399.20 322.50" stroke="#ff4d4d" stroke-width="0.75"/>
<text transform="translate(402.80,322.90) scale(0.8327,1)" x="0.00" y="0" font-size="7.21" fill="#464646">M</text>
<circle cx="416.90" cy="320.60" r="1.80" fill="none" stroke="#404040" stroke-width="0.75"/>
<text transform="translate(419.60,322.90) scale(0.7959,1)" x="0.00 5.86 10.67 14.74" y="0" font-size="7.21" fill="#464646">ORF6</text>
<rect x="441.69" y="318.99" width="3.23" height="3.23" fill="none" stroke="#404040" stroke-width="0.75"/>
<text transform="translate(445.80,322.90) scale(0.7834,1)" x="0.00 5.80 10.56 14.59 19.03" y="0" font-size="7.21" fill="#464646">ORF7a</text>
<path d="M472.20 318.70L474.10 320.60L472.20 322.50L470.30 320.60Z" fill="none" stroke="#404040" stroke-width="0.75"/>
<text transform="translate(475.70,322.90) scale(0.7877,1)" x="0.00 5.70 10.38 14.34 18.71" y="0" font-size="7.21" fill="#464646">ORF7b</text>
<path d="M502.20 318.70L504.10 322.12L500.30 322.12Z" fill="none" stroke="#404040" stroke-width="0.75"/>
<text transform="translate(505.70,322.90) scale(0.7387,1)" x="0.00 5.86 10.67 14.74" y="0" font-size="7.21" fill="#464646">ORF8</text>
<path d="M526.70 318.70L530.50 322.50M530.50 318.70L526.70 322.50" stroke="#404040" stroke-width="0.75"/>
<text transform="translate(532.20,322.90) scale(0.8260,1)" x="0.00" y="0" font-size="7.21" fill="#464646">N</text>
<rect x="276.5" y="334.2" width="265.5" height="160.10000000000002" fill="#fff" stroke="#d9d9d9" stroke-width="1"/>
<text x="282.3" y="348.5" font-size="16.5" font-weight="bold" fill="#000" textLength="5.82" lengthAdjust="spacingAndGlyphs">f</text>
<text transform="translate(291.30,349.40) scale(0.8417,1)" x="0.00 5.01 11.32 17.25 22.26 25.60 31.41 37.17 43.36 46.69 52.22 54.69 59.82 65.25 70.98 76.41 80.68 84.89 91.94 96.95 102.58 105.92 110.54 116.29 122.02 124.52 130.25 135.39 137.85 141.66 147.08 152.22 154.72 160.47 166.20 170.47 173.39 175.86 184.57 190.00 195.22 200.95 203.42 209.15 212.80 215.27 223.98 229.71 233.37 241.17 243.64 249.37 254.80 258.60 261.06 265.99 271.22 275.02 277.52 282.75 288.48" y="0" font-size="9.73" fill="#464646">SARS-CoV-2 genes/NSP-coding regions: mean nt mut% per variant</text>
<text transform="translate(286.60,404.50) rotate(-90)" x="-12.98" y="0" font-size="7.95" fill="#464646" textLength="25.96" lengthAdjust="spacingAndGlyphs">nt mut%</text>
<line x1="307.5" y1="355.1" x2="307.5" y2="451.3" stroke="#000" stroke-width="0.9"/>
<line x1="305.3" y1="451.30" x2="309.7" y2="451.30" stroke="#000" stroke-width="0.8"/>
<text transform="translate(301.00,453.50) scale(0.8201,1)" x="-15.95 -11.87 -9.84 -5.76" y="0" font-size="7.00" fill="#464646">0.0%</text>
<line x1="307.5" y1="424.40" x2="533.5" y2="424.40" stroke="#d9d9d9" stroke-width="0.8"/>
<line x1="305.3" y1="424.40" x2="309.7" y2="424.40" stroke="#000" stroke-width="0.8"/>
<text transform="translate(301.00,426.60) scale(0.8201,1)" x="-15.95 -11.87 -9.84 -5.76" y="0" font-size="7.00" fill="#464646">0.5%</text>
<line x1="307.5" y1="397.50" x2="533.5" y2="397.50" stroke="#d9d9d9" stroke-width="0.8"/>
<line x1="305.3" y1="397.50" x2="309.7" y2="397.50" stroke="#000" stroke-width="0.8"/>
<text transform="translate(301.00,399.70) scale(0.8201,1)" x="-15.95 -11.87 -9.84 -5.76" y="0" font-size="7.00" fill="#464646">1.0%</text>
<line x1="307.5" y1="370.60" x2="533.5" y2="370.60" stroke="#d9d9d9" stroke-width="0.8"/>
<line x1="305.3" y1="370.60" x2="309.7" y2="370.60" stroke="#000" stroke-width="0.8"/>
<text transform="translate(301.00,372.80) scale(0.8201,1)" x="-15.95 -11.87 -9.84 -5.76" y="0" font-size="7.00" fill="#464646">1.5%</text>
<line x1="306.0" y1="445.92" x2="307.5" y2="445.92" stroke="#000" stroke-width="0.6"/>
<line x1="306.0" y1="440.54" x2="307.5" y2="440.54" stroke="#000" stroke-width="0.6"/>
<line x1="306.0" y1="435.16" x2="307.5" y2="435.16" stroke="#000" stroke-width="0.6"/>
<line x1="306.0" y1="429.78" x2="307.5" y2="429.78" stroke="#000" stroke-width="0.6"/>
<line x1="306.0" y1="419.02" x2="307.5" y2="419.02" stroke="#000" stroke-width="0.6"/>
<line x1="306.0" y1="413.64" x2="307.5" y2="413.64" stroke="#000" stroke-width="0.6"/>
<line x1="306.0" y1="408.26" x2="307.5" y2="408.26" stroke="#000" stroke-width="0.6"/>
<line x1="306.0" y1="402.88" x2="307.5" y2="402.88" stroke="#000" stroke-width="0.6"/>
<line x1="306.0" y1="392.12" x2="307.5" y2="392.12" stroke="#000" stroke-width="0.6"/>
<line x1="306.0" y1="386.74" x2="307.5" y2="386.74" stroke="#000" stroke-width="0.6"/>
<line x1="306.0" y1="381.36" x2="307.5" y2="381.36" stroke="#000" stroke-width="0.6"/>
<line x1="306.0" y1="375.98" x2="307.5" y2="375.98" stroke="#000" stroke-width="0.6"/>
<line x1="306.0" y1="365.22" x2="307.5" y2="365.22" stroke="#000" stroke-width="0.6"/>
<line x1="306.0" y1="359.84" x2="307.5" y2="359.84" stroke="#000" stroke-width="0.6"/>
<line x1="307.5" y1="451.3" x2="533.7" y2="451.3" stroke="#000" stroke-width="0.9"/>
<line x1="307.50" y1="451.3" x2="307.50" y2="452.90000000000003" stroke="#000" stroke-width="0.7"/>
<line x1="316.20" y1="451.3" x2="316.20" y2="452.90000000000003" stroke="#000" stroke-width="0.7"/>
<line x1="324.90" y1="451.3" x2="324.90" y2="452.90000000000003" stroke="#000" stroke-width="0.7"/>
<line x1="333.60" y1="451.3" x2="333.60" y2="452.90000000000003" stroke="#000" stroke-width="0.7"/>
<line x1="342.30" y1="451.3" x2="342.30" y2="452.90000000000003" stroke="#000" stroke-width="0.7"/>
<line x1="351.00" y1="451.3" x2="351.00" y2="452.90000000000003" stroke="#000" stroke-width="0.7"/>
<line x1="359.70" y1="451.3" x2="359.70" y2="452.90000000000003" stroke="#000" stroke-width="0.7"/>
<line x1="368.40" y1="451.3" x2="368.40" y2="452.90000000000003" stroke="#000" stroke-width="0.7"/>
<line x1="377.10" y1="451.3" x2="377.10" y2="452.90000000000003" stroke="#000" stroke-width="0.7"/>
<line x1="385.80" y1="451.3" x2="385.80" y2="452.90000000000003" stroke="#000" stroke-width="0.7"/>
<line x1="394.50" y1="451.3" x2="394.50" y2="452.90000000000003" stroke="#000" stroke-width="0.7"/>
<line x1="403.20" y1="451.3" x2="403.20" y2="452.90000000000003" stroke="#000" stroke-width="0.7"/>
<line x1="411.90" y1="451.3" x2="411.90" y2="452.90000000000003" stroke="#000" stroke-width="0.7"/>
<line x1="420.60" y1="451.3" x2="420.60" y2="452.90000000000003" stroke="#000" stroke-width="0.7"/>
<line x1="429.30" y1="451.3" x2="429.30" y2="452.90000000000003" stroke="#000" stroke-width="0.7"/>
<line x1="438.00" y1="451.3" x2="438.00" y2="452.90000000000003" stroke="#000" stroke-width="0.7"/>
<line x1="446.70" y1="451.3" x2="446.70" y2="452.90000000000003" stroke="#000" stroke-width="0.7"/>
<line x1="455.40" y1="451.3" x2="455.40" y2="452.90000000000003" stroke="#000" stroke-width="0.7"/>
<line x1="464.10" y1="451.3" x2="464.10" y2="452.90000000000003" stroke="#000" stroke-width="0.7"/>
<line x1="472.80" y1="451.3" x2="472.80" y2="452.90000000000003" stroke="#000" stroke-width="0.7"/>
<line x1="481.50" y1="451.3" x2="481.50" y2="452.90000000000003" stroke="#000" stroke-width="0.7"/>
<line x1="490.20" y1="451.3" x2="490.20" y2="452.90000000000003" stroke="#000" stroke-width="0.7"/>
<line x1="498.90" y1="451.3" x2="498.90" y2="452.90000000000003" stroke="#000" stroke-width="0.7"/>
<line x1="507.60" y1="451.3" x2="507.60" y2="452.90000000000003" stroke="#000" stroke-width="0.7"/>
<line x1="516.30" y1="451.3" x2="516.30" y2="452.90000000000003" stroke="#000" stroke-width="0.7"/>
<line x1="525.00" y1="451.3" x2="525.00" y2="452.90000000000003" stroke="#000" stroke-width="0.7"/>
<line x1="533.70" y1="451.3" x2="533.70" y2="452.90000000000003" stroke="#000" stroke-width="0.7"/>
<text transform="translate(312.65,458.30) rotate(-45)" x="-13.20" y="0" font-size="5.89" fill="#464646" textLength="13.20" lengthAdjust="spacingAndGlyphs">NSP1</text>
<text transform="translate(321.35,458.30) rotate(-45)" x="-13.20" y="0" font-size="5.89" fill="#464646" textLength="13.20" lengthAdjust="spacingAndGlyphs">NSP2</text>
<text transform="translate(330.05,458.30) rotate(-45)" x="-13.20" y="0" font-size="5.89" fill="#464646" textLength="13.20" lengthAdjust="spacingAndGlyphs">NSP3</text>
<text transform="translate(338.75,458.30) rotate(-45)" x="-13.20" y="0" font-size="5.89" fill="#464646" textLength="13.20" lengthAdjust="spacingAndGlyphs">NSP4</text>
<text transform="translate(347.45,458.30) rotate(-45)" x="-13.20" y="0" font-size="5.89" fill="#464646" textLength="13.20" lengthAdjust="spacingAndGlyphs">NSP5</text>
<text transform="translate(356.15,458.30) rotate(-45)" x="-13.20" y="0" font-size="5.89" fill="#464646" textLength="13.20" lengthAdjust="spacingAndGlyphs">NSP6</text>
<text transform="translate(364.85,458.30) rotate(-45)" x="-13.20" y="0" font-size="5.89" fill="#464646" textLength="13.20" lengthAdjust="spacingAndGlyphs">NSP7</text>
<text transform="translate(373.55,458.30) rotate(-45)" x="-13.20" y="0" font-size="5.89" fill="#464646" textLength="13.20" lengthAdjust="spacingAndGlyphs">NSP8</text>
<text transform="translate(382.25,458.30) rotate(-45)" x="-13.20" y="0" font-size="5.89" fill="#464646" textLength="13.20" lengthAdjust="spacingAndGlyphs">NSP9</text>
<text transform="translate(390.95,458.30) rotate(-45)" x="-16.34" y="0" font-size="5.89" fill="#464646" textLength="16.34" lengthAdjust="spacingAndGlyphs">NSP10</text>
<text transform="translate(399.65,458.30) rotate(-45)" x="-16.34" y="0" font-size="5.89" fill="#464646" textLength="16.34" lengthAdjust="spacingAndGlyphs">NSP11</text>
<text transform="translate(408.35,458.30) rotate(-45)" x="-16.34" y="0" font-size="5.89" fill="#464646" textLength="16.34" lengthAdjust="spacingAndGlyphs">NSP12</text>
<text transform="translate(417.05,458.30) rotate(-45)" x="-16.34" y="0" font-size="5.89" fill="#464646" textLength="16.34" lengthAdjust="spacingAndGlyphs">NSP13</text>
<text transform="translate(425.75,458.30) rotate(-45)" x="-16.34" y="0" font-size="5.89" fill="#464646" textLength="16.34" lengthAdjust="spacingAndGlyphs">NSP14</text>
<text transform="translate(434.45,458.30) rotate(-45)" x="-16.34" y="0" font-size="5.89" fill="#464646" textLength="16.34" lengthAdjust="spacingAndGlyphs">NSP15</text>
<text transform="translate(443.15,458.30) rotate(-45)" x="-16.34" y="0" font-size="5.89" fill="#464646" textLength="16.34" lengthAdjust="spacingAndGlyphs">NSP16</text>
<text transform="translate(451.85,458.30) rotate(-45)" x="-2.85" y="0" font-size="5.89" fill="#464646" textLength="2.85" lengthAdjust="spacingAndGlyphs">S</text>
<text transform="translate(460.55,458.30) rotate(-45)" x="-16.43" y="0" font-size="5.89" fill="#464646" textLength="16.43" lengthAdjust="spacingAndGlyphs">ORF3a</text>
<text transform="translate(469.25,458.30) rotate(-45)" x="-3.03" y="0" font-size="5.89" fill="#464646" textLength="3.03" lengthAdjust="spacingAndGlyphs">E</text>
<text transform="translate(477.95,458.30) rotate(-45)" x="-5.30" y="0" font-size="5.89" fill="#464646" textLength="5.30" lengthAdjust="spacingAndGlyphs">M</text>
<text transform="translate(486.65,458.30) rotate(-45)" x="-13.46" y="0" font-size="5.89" fill="#464646" textLength="13.46" lengthAdjust="spacingAndGlyphs">ORF6</text>
<text transform="translate(495.35,458.30) rotate(-45)" x="-16.43" y="0" font-size="5.89" fill="#464646" textLength="16.43" lengthAdjust="spacingAndGlyphs">ORF7a</text>
<text transform="translate(504.05,458.30) rotate(-45)" x="-16.72" y="0" font-size="5.89" fill="#464646" textLength="16.72" lengthAdjust="spacingAndGlyphs">ORF7b</text>
<text transform="translate(512.75,458.30) rotate(-45)" x="-13.46" y="0" font-size="5.89" fill="#464646" textLength="13.46" lengthAdjust="spacingAndGlyphs">ORF8</text>
<text transform="translate(521.45,458.30) rotate(-45)" x="-4.00" y="0" font-size="5.89" fill="#464646" textLength="4.00" lengthAdjust="spacingAndGlyphs">N</text>
<text transform="translate(530.15,458.30) rotate(-45)" x="-16.60" y="0" font-size="5.89" fill="#464646" textLength="16.60" lengthAdjust="spacingAndGlyphs">ORF10</text>
<text transform="translate(420.20,477.20) scale(0.8181,1)" x="-36.79 -32.70 -27.54 -22.70 -18.60 -15.87 -11.12 -6.41 -1.35 1.38 5.89 7.91 11.94 16.21 19.32 21.36 25.63 30.32 33.31" y="0" font-size="7.65" fill="#464646">SARS-CoV-2 variants</text>
<circle cx="311.85" cy="448.61" r="2.85" fill="none" stroke="#ff4d4d" stroke-width="0.85"/>
<circle cx="320.55" cy="449.15" r="2.85" fill="none" stroke="#ff4d4d" stroke-width="0.85"/>
<circle cx="329.25" cy="448.61" r="2.85" fill="none" stroke="#ff4d4d" stroke-width="0.85"/>
<circle cx="337.95" cy="449.69" r="2.85" fill="none" stroke="#ff4d4d" stroke-width="0.85"/>
<circle cx="346.65" cy="445.92" r="2.85" fill="none" stroke="#ff4d4d" stroke-width="0.85"/>
<circle cx="355.35" cy="388.35" r="2.85" fill="none" stroke="#ff4d4d" stroke-width="0.85"/>
<circle cx="364.05" cy="450.22" r="2.85" fill="none" stroke="#ff4d4d" stroke-width="0.85"/>
<circle cx="372.75" cy="449.69" r="2.85" fill="none" stroke="#ff4d4d" stroke-width="0.85"/>
<circle cx="381.45" cy="448.61" r="2.85" fill="none" stroke="#ff4d4d" stroke-width="0.85"/>
<circle cx="390.15" cy="449.69" r="2.85" fill="none" stroke="#ff4d4d" stroke-width="0.85"/>
<circle cx="398.85" cy="450.22" r="2.85" fill="none" stroke="#ff4d4d" stroke-width="0.85"/>
<circle cx="407.55" cy="442.69" r="2.85" fill="none" stroke="#ff4d4d" stroke-width="0.85"/>
<circle cx="416.25" cy="447.00" r="2.85" fill="none" stroke="#ff4d4d" stroke-width="0.85"/>
<circle cx="424.95" cy="448.61" r="2.85" fill="none" stroke="#ff4d4d" stroke-width="0.85"/>
<circle cx="433.65" cy="445.92" r="2.85" fill="none" stroke="#ff4d4d" stroke-width="0.85"/>
<circle cx="442.35" cy="449.69" r="2.85" fill="none" stroke="#ff4d4d" stroke-width="0.85"/>
<circle cx="451.05" cy="370.60" r="2.85" fill="none" stroke="#ff4d4d" stroke-width="0.85"/>
<circle cx="459.75" cy="444.31" r="2.85" fill="none" stroke="#ff4d4d" stroke-width="0.85"/>
<circle cx="468.45" cy="427.63" r="2.85" fill="none" stroke="#ff4d4d" stroke-width="0.85"/>
<circle cx="477.15" cy="427.63" r="2.85" fill="none" stroke="#ff4d4d" stroke-width="0.85"/>
<circle cx="485.85" cy="422.25" r="2.85" fill="none" stroke="#ff4d4d" stroke-width="0.85"/>
<circle cx="494.55" cy="450.22" r="2.85" fill="none" stroke="#ff4d4d" stroke-width="0.85"/>
<circle cx="503.25" cy="410.41" r="2.85" fill="none" stroke="#ff4d4d" stroke-width="0.85"/>
<circle cx="511.95" cy="448.07" r="2.85" fill="none" stroke="#ff4d4d" stroke-width="0.85"/>
<circle cx="520.65" cy="395.89" r="2.85" fill="none" stroke="#ff4d4d" stroke-width="0.85"/>
<circle cx="529.35" cy="447.00" r="2.85" fill="none" stroke="#ff4d4d" stroke-width="0.85"/>
<rect x="309.30" y="440.68" width="5.10" height="5.10" fill="none" stroke="#ff4d4d" stroke-width="0.85"/>
<rect x="318.00" y="440.68" width="5.10" height="5.10" fill="none" stroke="#ff4d4d" stroke-width="0.85"/>
<rect x="326.70" y="441.76" width="5.10" height="5.10" fill="none" stroke="#ff4d4d" stroke-width="0.85"/>
<rect x="335.40" y="447.67" width="5.10" height="5.10" fill="none" stroke="#ff4d4d" stroke-width="0.85"/>
<rect x="344.10" y="446.06" width="5.10" height="5.10" fill="none" stroke="#ff4d4d" stroke-width="0.85"/>
<rect x="352.80" y="440.14" width="5.10" height="5.10" fill="none" stroke="#ff4d4d" stroke-width="0.85"/>
<rect x="361.50" y="448.75" width="5.10" height="5.10" fill="none" stroke="#ff4d4d" stroke-width="0.85"/>
<rect x="370.20" y="447.67" width="5.10" height="5.10" fill="none" stroke="#ff4d4d" stroke-width="0.85"/>
<rect x="378.90" y="444.45" width="5.10" height="5.10" fill="none" stroke="#ff4d4d" stroke-width="0.85"/>
<rect x="387.60" y="446.06" width="5.10" height="5.10" fill="none" stroke="#ff4d4d" stroke-width="0.85"/>
<rect x="396.30" y="448.21" width="5.10" height="5.10" fill="none" stroke="#ff4d4d" stroke-width="0.85"/>
<rect x="405.00" y="444.45" width="5.10" height="5.10" fill="none" stroke="#ff4d4d" stroke-width="0.85"/>
<rect x="413.70" y="443.37" width="5.10" height="5.10" fill="none" stroke="#ff4d4d" stroke-width="0.85"/>
<rect x="422.40" y="447.14" width="5.10" height="5.10" fill="none" stroke="#ff4d4d" stroke-width="0.85"/>
<rect x="431.10" y="445.52" width="5.10" height="5.10" fill="none" stroke="#ff4d4d" stroke-width="0.85"/>
<rect x="439.80" y="446.06" width="5.10" height="5.10" fill="none" stroke="#ff4d4d" stroke-width="0.85"/>
<rect x="448.50" y="429.92" width="5.10" height="5.10" fill="none" stroke="#ff4d4d" stroke-width="0.85"/>
<rect x="457.20" y="446.06" width="5.10" height="5.10" fill="none" stroke="#ff4d4d" stroke-width="0.85"/>
<rect x="465.90" y="448.75" width="5.10" height="5.10" fill="none" stroke="#ff4d4d" stroke-width="0.85"/>
<rect x="474.60" y="447.67" width="5.10" height="5.10" fill="none" stroke="#ff4d4d" stroke-width="0.85"/>
<rect x="483.30" y="434.22" width="5.10" height="5.10" fill="none" stroke="#ff4d4d" stroke-width="0.85"/>
<rect x="492.00" y="417.01" width="5.10" height="5.10" fill="none" stroke="#ff4d4d" stroke-width="0.85"/>
<rect x="500.70" y="436.91" width="5.10" height="5.10" fill="none" stroke="#ff4d4d" stroke-width="0.85"/>
<rect x="509.40" y="432.61" width="5.10" height="5.10" fill="none" stroke="#ff4d4d" stroke-width="0.85"/>
<rect x="518.10" y="432.61" width="5.10" height="5.10" fill="none" stroke="#ff4d4d" stroke-width="0.85"/>
<rect x="526.80" y="446.06" width="5.10" height="5.10" fill="none" stroke="#ff4d4d" stroke-width="0.85"/>
<path d="M311.85 446.15L314.85 449.15L311.85 452.15L308.85 449.15Z" fill="none" stroke="#ff4d4d" stroke-width="0.85"/>
<path d="M320.55 444.00L323.55 447.00L320.55 450.00L317.55 447.00Z" fill="none" stroke="#ff4d4d" stroke-width="0.85"/>
<path d="M329.25 442.92L332.25 445.92L329.25 448.92L326.25 445.92Z" fill="none" stroke="#ff4d4d" stroke-width="0.85"/>
<path d="M337.95 447.76L340.95 450.76L337.95 453.76L334.95 450.76Z" fill="none" stroke="#ff4d4d" stroke-width="0.85"/>
<path d="M346.65 444.00L349.65 447.00L346.65 450.00L343.65 447.00Z" fill="none" stroke="#ff4d4d" stroke-width="0.85"/>
<path d="M355.35 390.73L358.35 393.73L355.35 396.73L352.35 393.73Z" fill="none" stroke="#ff4d4d" stroke-width="0.85"/>
<path d="M364.05 448.30L367.05 451.30L364.05 454.30L361.05 451.30Z" fill="none" stroke="#ff4d4d" stroke-width="0.85"/>
<path d="M372.75 447.76L375.75 450.76L372.75 453.76L369.75 450.76Z" fill="none" stroke="#ff4d4d" stroke-width="0.85"/>
<path d="M381.45 446.15L384.45 449.15L381.45 452.15L378.45 449.15Z" fill="none" stroke="#ff4d4d" stroke-width="0.85"/>
<path d="M390.15 447.22L393.15 450.22L390.15 453.22L387.15 450.22Z" fill="none" stroke="#ff4d4d" stroke-width="0.85"/>
<path d="M398.85 448.30L401.85 451.30L398.85 454.30L395.85 451.30Z" fill="none" stroke="#ff4d4d" stroke-width="0.85"/>
<path d="M407.55 445.61L410.55 448.61L407.55 451.61L404.55 448.61Z" fill="none" stroke="#ff4d4d" stroke-width="0.85"/>
<path d="M416.25 445.61L419.25 448.61L416.25 451.61L413.25 448.61Z" fill="none" stroke="#ff4d4d" stroke-width="0.85"/>
<path d="M424.95 444.53L427.95 447.53L424.95 450.53L421.95 447.53Z" fill="none" stroke="#ff4d4d" stroke-width="0.85"/>
<path d="M433.65 446.69L436.65 449.69L433.65 452.69L430.65 449.69Z" fill="none" stroke="#ff4d4d" stroke-width="0.85"/>
<path d="M442.35 444.00L445.35 447.00L442.35 450.00L439.35 447.00Z" fill="none" stroke="#ff4d4d" stroke-width="0.85"/>
<path d="M451.05 424.09L454.05 427.09L451.05 430.09L448.05 427.09Z" fill="none" stroke="#ff4d4d" stroke-width="0.85"/>
<path d="M459.75 446.15L462.75 449.15L459.75 452.15L456.75 449.15Z" fill="none" stroke="#ff4d4d" stroke-width="0.85"/>
<path d="M468.45 448.30L471.45 451.30L468.45 454.30L465.45 451.30Z" fill="none" stroke="#ff4d4d" stroke-width="0.85"/>
<path d="M477.15 447.76L480.15 450.76L477.15 453.76L474.15 450.76Z" fill="none" stroke="#ff4d4d" stroke-width="0.85"/>
<path d="M485.85 445.61L488.85 448.61L485.85 451.61L482.85 448.61Z" fill="none" stroke="#ff4d4d" stroke-width="0.85"/>
<path d="M494.55 446.15L497.55 449.15L494.55 452.15L491.55 449.15Z" fill="none" stroke="#ff4d4d" stroke-width="0.85"/>
<path d="M503.25 446.69L506.25 449.69L503.25 452.69L500.25 449.69Z" fill="none" stroke="#ff4d4d" stroke-width="0.85"/>
<path d="M511.95 395.58L514.95 398.58L511.95 401.58L508.95 398.58Z" fill="none" stroke="#ff4d4d" stroke-width="0.85"/>
<path d="M520.65 417.10L523.65 420.10L520.65 423.10L517.65 420.10Z" fill="none" stroke="#ff4d4d" stroke-width="0.85"/>
<path d="M529.35 446.69L532.35 449.69L529.35 452.69L526.35 449.69Z" fill="none" stroke="#ff4d4d" stroke-width="0.85"/>
<path d="M311.85 446.69L314.85 452.09L308.85 452.09Z" fill="none" stroke="#ff4d4d" stroke-width="0.85"/>
<path d="M320.55 445.61L323.55 451.01L317.55 451.01Z" fill="none" stroke="#ff4d4d" stroke-width="0.85"/>
<path d="M329.25 441.84L332.25 447.24L326.25 447.24Z" fill="none" stroke="#ff4d4d" stroke-width="0.85"/>
<path d="M337.95 448.30L340.95 453.70L334.95 453.70Z" fill="none" stroke="#ff4d4d" stroke-width="0.85"/>
<path d="M346.65 446.69L349.65 452.09L343.65 452.09Z" fill="none" stroke="#ff4d4d" stroke-width="0.85"/>
<path d="M355.35 390.73L358.35 396.13L352.35 396.13Z" fill="none" stroke="#ff4d4d" stroke-width="0.85"/>
<path d="M364.05 448.30L367.05 453.70L361.05 453.70Z" fill="none" stroke="#ff4d4d" stroke-width="0.85"/>
<path d="M372.75 447.22L375.75 452.62L369.75 452.62Z" fill="none" stroke="#ff4d4d" stroke-width="0.85"/>
<path d="M381.45 433.24L384.45 438.64L378.45 438.64Z" fill="none" stroke="#ff4d4d" stroke-width="0.85"/>
<path d="M390.15 447.76L393.15 453.16L387.15 453.16Z" fill="none" stroke="#ff4d4d" stroke-width="0.85"/>
<path d="M398.85 447.76L401.85 453.16L395.85 453.16Z" fill="none" stroke="#ff4d4d" stroke-width="0.85"/>
<path d="M407.55 442.92L410.55 448.32L404.55 448.32Z" fill="none" stroke="#ff4d4d" stroke-width="0.85"/>
<path d="M416.25 441.84L419.25 447.24L413.25 447.24Z" fill="none" stroke="#ff4d4d" stroke-width="0.85"/>
<path d="M424.95 447.22L427.95 452.62L421.95 452.62Z" fill="none" stroke="#ff4d4d" stroke-width="0.85"/>
<path d="M433.65 441.84L436.65 447.24L430.65 447.24Z" fill="none" stroke="#ff4d4d" stroke-width="0.85"/>
<path d="M442.35 447.22L445.35 452.62L439.35 452.62Z" fill="none" stroke="#ff4d4d" stroke-width="0.85"/>
<path d="M451.05 424.09L454.05 429.49L448.05 429.49Z" fill="none" stroke="#ff4d4d" stroke-width="0.85"/>
<path d="M459.75 446.69L462.75 452.09L456.75 452.09Z" fill="none" stroke="#ff4d4d" stroke-width="0.85"/>
<path d="M468.45 421.40L471.45 426.80L465.45 426.80Z" fill="none" stroke="#ff4d4d" stroke-width="0.85"/>
<path d="M477.15 448.30L480.15 453.70L474.15 453.70Z" fill="none" stroke="#ff4d4d" stroke-width="0.85"/>
<path d="M485.85 445.61L488.85 451.01L482.85 451.01Z" fill="none" stroke="#ff4d4d" stroke-width="0.85"/>
<path d="M494.55 446.69L497.55 452.09L491.55 452.09Z" fill="none" stroke="#ff4d4d" stroke-width="0.85"/>
<path d="M503.25 447.22L506.25 452.62L500.25 452.62Z" fill="none" stroke="#ff4d4d" stroke-width="0.85"/>
<path d="M511.95 433.77L514.95 439.17L508.95 439.17Z" fill="none" stroke="#ff4d4d" stroke-width="0.85"/>
<path d="M520.65 440.77L523.65 446.17L517.65 446.17Z" fill="none" stroke="#ff4d4d" stroke-width="0.85"/>
<path d="M529.35 442.92L532.35 448.32L526.35 448.32Z" fill="none" stroke="#ff4d4d" stroke-width="0.85"/>
<path d="M308.85 435.39L314.85 441.39M314.85 435.39L308.85 441.39" stroke="#ff4d4d" stroke-width="0.85"/>
<path d="M317.55 442.92L323.55 448.92M323.55 442.92L317.55 448.92" stroke="#ff4d4d" stroke-width="0.85"/>
<path d="M326.25 444.00L332.25 450.00M332.25 444.00L326.25 450.00" stroke="#ff4d4d" stroke-width="0.85"/>
<path d="M334.95 446.69L340.95 452.69M340.95 446.69L334.95 452.69" stroke="#ff4d4d" stroke-width="0.85"/>
<path d="M343.65 440.77L349.65 446.77M349.65 440.77L343.65 446.77" stroke="#ff4d4d" stroke-width="0.85"/>
<path d="M352.35 390.73L358.35 396.73M358.35 390.73L352.35 396.73" stroke="#ff4d4d" stroke-width="0.85"/>
<path d="M361.05 448.30L367.05 454.30M367.05 448.30L361.05 454.30" stroke="#ff4d4d" stroke-width="0.85"/>
<path d="M369.75 446.69L375.75 452.69M375.75 446.69L369.75 452.69" stroke="#ff4d4d" stroke-width="0.85"/>
<path d="M378.45 430.01L384.45 436.01M384.45 430.01L378.45 436.01" stroke="#ff4d4d" stroke-width="0.85"/>
<path d="M387.15 446.15L393.15 452.15M393.15 446.15L387.15 452.15" stroke="#ff4d4d" stroke-width="0.85"/>
<path d="M395.85 447.22L401.85 453.22M401.85 447.22L395.85 453.22" stroke="#ff4d4d" stroke-width="0.85"/>
<path d="M404.55 446.15L410.55 452.15M410.55 446.15L404.55 452.15" stroke="#ff4d4d" stroke-width="0.85"/>
<path d="M413.25 446.69L419.25 452.69M419.25 446.69L413.25 452.69" stroke="#ff4d4d" stroke-width="0.85"/>
<path d="M421.95 446.15L427.95 452.15M427.95 446.15L421.95 452.15" stroke="#ff4d4d" stroke-width="0.85"/>
<path d="M430.65 444.00L436.65 450.00M436.65 444.00L430.65 450.00" stroke="#ff4d4d" stroke-width="0.85"/>
<path d="M439.35 446.15L445.35 452.15M445.35 446.15L439.35 452.15" stroke="#ff4d4d" stroke-width="0.85"/>
<path d="M448.05 429.47L454.05 435.47M454.05 429.47L448.05 435.47" stroke="#ff4d4d" stroke-width="0.85"/>
<path d="M456.75 439.15L462.75 445.15M462.75 439.15L456.75 445.15" stroke="#ff4d4d" stroke-width="0.85"/>
<path d="M465.45 448.30L471.45 454.30M471.45 448.30L465.45 454.30" stroke="#ff4d4d" stroke-width="0.85"/>
<path d="M474.15 448.30L480.15 454.30M480.15 448.30L474.15 454.30" stroke="#ff4d4d" stroke-width="0.85"/>
<path d="M482.85 447.22L488.85 453.22M488.85 447.22L482.85 453.22" stroke="#ff4d4d" stroke-width="0.85"/>
<path d="M491.55 444.00L497.55 450.00M497.55 444.00L491.55 450.00" stroke="#ff4d4d" stroke-width="0.85"/>
<path d="M500.25 447.76L506.25 453.76M506.25 447.76L500.25 453.76" stroke="#ff4d4d" stroke-width="0.85"/>
<path d="M508.95 428.93L514.95 434.93M514.95 428.93L508.95 434.93" stroke="#ff4d4d" stroke-width="0.85"/>
<path d="M517.65 423.01L523.65 429.01M523.65 423.01L517.65 429.01" stroke="#ff4d4d" stroke-width="0.85"/>
<path d="M526.35 445.07L532.35 451.07M532.35 445.07L526.35 451.07" stroke="#ff4d4d" stroke-width="0.85"/>
<path d="M308.85 450.22L314.85 450.22" stroke="#ff4d4d" stroke-width="1.36"/>
<path d="M317.55 450.22L323.55 450.22" stroke="#ff4d4d" stroke-width="1.36"/>
<path d="M326.25 449.15L332.25 449.15" stroke="#ff4d4d" stroke-width="1.36"/>
<path d="M334.95 450.22L340.95 450.22" stroke="#ff4d4d" stroke-width="1.36"/>
<path d="M343.65 450.22L349.65 450.22" stroke="#ff4d4d" stroke-width="1.36"/>
<path d="M352.35 447.00L358.35 447.00" stroke="#ff4d4d" stroke-width="1.36"/>
<path d="M361.05 451.30L367.05 451.30" stroke="#ff4d4d" stroke-width="1.36"/>
<path d="M369.75 450.76L375.75 450.76" stroke="#ff4d4d" stroke-width="1.36"/>
<path d="M378.45 450.22L384.45 450.22" stroke="#ff4d4d" stroke-width="1.36"/>
<path d="M387.15 450.22L393.15 450.22" stroke="#ff4d4d" stroke-width="1.36"/>
<path d="M395.85 451.30L401.85 451.30" stroke="#ff4d4d" stroke-width="1.36"/>
<path d="M404.55 450.22L410.55 450.22" stroke="#ff4d4d" stroke-width="1.36"/>
<path d="M413.25 448.61L419.25 448.61" stroke="#ff4d4d" stroke-width="1.36"/>
<path d="M421.95 450.76L427.95 450.76" stroke="#ff4d4d" stroke-width="1.36"/>
<path d="M430.65 450.22L436.65 450.22" stroke="#ff4d4d" stroke-width="1.36"/>
<path d="M439.35 450.76L445.35 450.76" stroke="#ff4d4d" stroke-width="1.36"/>
<path d="M448.05 449.69L454.05 449.69" stroke="#ff4d4d" stroke-width="1.36"/>
<path d="M456.75 444.84L462.75 444.84" stroke="#ff4d4d" stroke-width="1.36"/>
<path d="M465.45 441.08L471.45 441.08" stroke="#ff4d4d" stroke-width="1.36"/>
<path d="M474.15 451.30L480.15 451.30" stroke="#ff4d4d" stroke-width="1.36"/>
<path d="M482.85 448.07L488.85 448.07" stroke="#ff4d4d" stroke-width="1.36"/>
<path d="M491.55 450.22L497.55 450.22" stroke="#ff4d4d" stroke-width="1.36"/>
<path d="M500.25 450.76L506.25 450.76" stroke="#ff4d4d" stroke-width="1.36"/>
<path d="M508.95 449.69L514.95 449.69" stroke="#ff4d4d" stroke-width="1.36"/>
<path d="M517.65 441.08L523.65 441.08" stroke="#ff4d4d" stroke-width="1.36"/>
<path d="M526.35 450.22L532.35 450.22" stroke="#ff4d4d" stroke-width="1.36"/>
<path d="M308.85 450.76L314.85 450.76M311.85 447.76L311.85 453.76" stroke="#ff4d4d" stroke-width="0.85"/>
<path d="M317.55 449.69L323.55 449.69M320.55 446.69L320.55 452.69" stroke="#ff4d4d" stroke-width="0.85"/>
<path d="M326.25 450.22L332.25 450.22M329.25 447.22L329.25 453.22" stroke="#ff4d4d" stroke-width="0.85"/>
<path d="M334.95 449.15L340.95 449.15M337.95 446.15L337.95 452.15" stroke="#ff4d4d" stroke-width="0.85"/>
<path d="M343.65 450.76L349.65 450.76M346.65 447.76L346.65 453.76" stroke="#ff4d4d" stroke-width="0.85"/>
<path d="M352.35 444.31L358.35 444.31M355.35 441.31L355.35 447.31" stroke="#ff4d4d" stroke-width="0.85"/>
<path d="M361.05 426.55L367.05 426.55M364.05 423.55L364.05 429.55" stroke="#ff4d4d" stroke-width="0.85"/>
<path d="M369.75 451.30L375.75 451.30M372.75 448.30L372.75 454.30" stroke="#ff4d4d" stroke-width="0.85"/>
<path d="M378.45 449.69L384.45 449.69M381.45 446.69L381.45 452.69" stroke="#ff4d4d" stroke-width="0.85"/>
<path d="M387.15 450.76L393.15 450.76M390.15 447.76L390.15 453.76" stroke="#ff4d4d" stroke-width="0.85"/>
<path d="M395.85 450.76L401.85 450.76M398.85 447.76L398.85 453.76" stroke="#ff4d4d" stroke-width="0.85"/>
<path d="M404.55 449.69L410.55 449.69M407.55 446.69L407.55 452.69" stroke="#ff4d4d" stroke-width="0.85"/>
<path d="M413.25 450.22L419.25 450.22M416.25 447.22L416.25 453.22" stroke="#ff4d4d" stroke-width="0.85"/>
<path d="M421.95 450.22L427.95 450.22M424.95 447.22L424.95 453.22" stroke="#ff4d4d" stroke-width="0.85"/>
<path d="M430.65 443.23L436.65 443.23M433.65 440.23L433.65 446.23" stroke="#ff4d4d" stroke-width="0.85"/>
<path d="M439.35 449.69L445.35 449.69M442.35 446.69L442.35 452.69" stroke="#ff4d4d" stroke-width="0.85"/>
<path d="M448.05 449.69L454.05 449.69M451.05 446.69L451.05 452.69" stroke="#ff4d4d" stroke-width="0.85"/>
<path d="M456.75 450.22L462.75 450.22M459.75 447.22L459.75 453.22" stroke="#ff4d4d" stroke-width="0.85"/>
<path d="M465.45 451.30L471.45 451.30M468.45 448.30L468.45 454.30" stroke="#ff4d4d" stroke-width="0.85"/>
<path d="M474.15 451.30L480.15 451.30M477.15 448.30L477.15 454.30" stroke="#ff4d4d" stroke-width="0.85"/>
<path d="M482.85 448.61L488.85 448.61M485.85 445.61L485.85 451.61" stroke="#ff4d4d" stroke-width="0.85"/>
<path d="M491.55 448.61L497.55 448.61M494.55 445.61L494.55 451.61" stroke="#ff4d4d" stroke-width="0.85"/>
<path d="M500.25 450.76L506.25 450.76M503.25 447.76L503.25 453.76" stroke="#ff4d4d" stroke-width="0.85"/>
<path d="M508.95 435.70L514.95 435.70M511.95 432.70L511.95 438.70" stroke="#ff4d4d" stroke-width="0.85"/>
<path d="M517.65 429.78L523.65 429.78M520.65 426.78L520.65 432.78" stroke="#ff4d4d" stroke-width="0.85"/>
<path d="M526.35 449.15L532.35 449.15M529.35 446.15L529.35 452.15" stroke="#ff4d4d" stroke-width="0.85"/>
<rect x="309.30" y="444.45" width="5.10" height="5.10" fill="none" stroke="#404040" stroke-width="0.85"/>
<rect x="318.00" y="437.99" width="5.10" height="5.10" fill="none" stroke="#404040" stroke-width="0.85"/>
<rect x="326.70" y="443.37" width="5.10" height="5.10" fill="none" stroke="#404040" stroke-width="0.85"/>
<rect x="335.40" y="439.60" width="5.10" height="5.10" fill="none" stroke="#404040" stroke-width="0.85"/>
<rect x="344.10" y="447.67" width="5.10" height="5.10" fill="none" stroke="#404040" stroke-width="0.85"/>
<rect x="352.80" y="391.18" width="5.10" height="5.10" fill="none" stroke="#404040" stroke-width="0.85"/>
<rect x="361.50" y="448.75" width="5.10" height="5.10" fill="none" stroke="#404040" stroke-width="0.85"/>
<rect x="370.20" y="447.14" width="5.10" height="5.10" fill="none" stroke="#404040" stroke-width="0.85"/>
<rect x="378.90" y="446.06" width="5.10" height="5.10" fill="none" stroke="#404040" stroke-width="0.85"/>
<rect x="387.60" y="446.60" width="5.10" height="5.10" fill="none" stroke="#404040" stroke-width="0.85"/>
<rect x="396.30" y="447.67" width="5.10" height="5.10" fill="none" stroke="#404040" stroke-width="0.85"/>
<rect x="405.00" y="443.37" width="5.10" height="5.10" fill="none" stroke="#404040" stroke-width="0.85"/>
<rect x="413.70" y="445.52" width="5.10" height="5.10" fill="none" stroke="#404040" stroke-width="0.85"/>
<rect x="422.40" y="445.52" width="5.10" height="5.10" fill="none" stroke="#404040" stroke-width="0.85"/>
<rect x="431.10" y="446.06" width="5.10" height="5.10" fill="none" stroke="#404040" stroke-width="0.85"/>
<rect x="439.80" y="439.60" width="5.10" height="5.10" fill="none" stroke="#404040" stroke-width="0.85"/>
<rect x="448.50" y="447.14" width="5.10" height="5.10" fill="none" stroke="#404040" stroke-width="0.85"/>
<rect x="457.20" y="447.67" width="5.10" height="5.10" fill="none" stroke="#404040" stroke-width="0.85"/>
<rect x="465.90" y="424.54" width="5.10" height="5.10" fill="none" stroke="#404040" stroke-width="0.85"/>
<rect x="474.60" y="440.14" width="5.10" height="5.10" fill="none" stroke="#404040" stroke-width="0.85"/>
<rect x="483.30" y="359.44" width="5.10" height="5.10" fill="none" stroke="#404040" stroke-width="0.85"/>
<rect x="492.00" y="444.45" width="5.10" height="5.10" fill="none" stroke="#404040" stroke-width="0.85"/>
<rect x="500.70" y="448.21" width="5.10" height="5.10" fill="none" stroke="#404040" stroke-width="0.85"/>
<rect x="509.40" y="447.14" width="5.10" height="5.10" fill="none" stroke="#404040" stroke-width="0.85"/>
<rect x="518.10" y="424.54" width="5.10" height="5.10" fill="none" stroke="#404040" stroke-width="0.85"/>
<rect x="526.80" y="447.67" width="5.10" height="5.10" fill="none" stroke="#404040" stroke-width="0.85"/>
<circle cx="311.85" cy="449.69" r="2.85" fill="none" stroke="#404040" stroke-width="0.85"/>
<circle cx="320.55" cy="448.61" r="2.85" fill="none" stroke="#404040" stroke-width="0.85"/>
<circle cx="329.25" cy="448.07" r="2.85" fill="none" stroke="#404040" stroke-width="0.85"/>
<circle cx="337.95" cy="444.84" r="2.85" fill="none" stroke="#404040" stroke-width="0.85"/>
<circle cx="346.65" cy="448.61" r="2.85" fill="none" stroke="#404040" stroke-width="0.85"/>
<circle cx="355.35" cy="445.38" r="2.85" fill="none" stroke="#404040" stroke-width="0.85"/>
<circle cx="364.05" cy="408.26" r="2.85" fill="none" stroke="#404040" stroke-width="0.85"/>
<circle cx="372.75" cy="450.22" r="2.85" fill="none" stroke="#404040" stroke-width="0.85"/>
<circle cx="381.45" cy="449.15" r="2.85" fill="none" stroke="#404040" stroke-width="0.85"/>
<circle cx="390.15" cy="437.85" r="2.85" fill="none" stroke="#404040" stroke-width="0.85"/>
<circle cx="398.85" cy="450.76" r="2.85" fill="none" stroke="#404040" stroke-width="0.85"/>
<circle cx="407.55" cy="448.61" r="2.85" fill="none" stroke="#404040" stroke-width="0.85"/>
<circle cx="416.25" cy="444.84" r="2.85" fill="none" stroke="#404040" stroke-width="0.85"/>
<circle cx="424.95" cy="449.69" r="2.85" fill="none" stroke="#404040" stroke-width="0.85"/>
<circle cx="433.65" cy="445.92" r="2.85" fill="none" stroke="#404040" stroke-width="0.85"/>
<circle cx="442.35" cy="450.22" r="2.85" fill="none" stroke="#404040" stroke-width="0.85"/>
<circle cx="451.05" cy="412.03" r="2.85" fill="none" stroke="#404040" stroke-width="0.85"/>
<circle cx="459.75" cy="450.22" r="2.85" fill="none" stroke="#404040" stroke-width="0.85"/>
<circle cx="468.45" cy="451.30" r="2.85" fill="none" stroke="#404040" stroke-width="0.85"/>
<circle cx="477.15" cy="451.30" r="2.85" fill="none" stroke="#404040" stroke-width="0.85"/>
<circle cx="485.85" cy="449.15" r="2.85" fill="none" stroke="#404040" stroke-width="0.85"/>
<circle cx="494.55" cy="449.69" r="2.85" fill="none" stroke="#404040" stroke-width="0.85"/>
<circle cx="503.25" cy="450.76" r="2.85" fill="none" stroke="#404040" stroke-width="0.85"/>
<circle cx="511.95" cy="424.40" r="2.85" fill="none" stroke="#404040" stroke-width="0.85"/>
<circle cx="520.65" cy="435.70" r="2.85" fill="none" stroke="#404040" stroke-width="0.85"/>
<circle cx="529.35" cy="448.61" r="2.85" fill="none" stroke="#404040" stroke-width="0.85"/>
<path d="M311.85 445.61L314.85 448.61L311.85 451.61L308.85 448.61Z" fill="none" stroke="#404040" stroke-width="0.85"/>
<path d="M320.55 446.69L323.55 449.69L320.55 452.69L317.55 449.69Z" fill="none" stroke="#404040" stroke-width="0.85"/>
<path d="M329.25 444.00L332.25 447.00L329.25 450.00L326.25 447.00Z" fill="none" stroke="#404040" stroke-width="0.85"/>
<path d="M337.95 445.61L340.95 448.61L337.95 451.61L334.95 448.61Z" fill="none" stroke="#404040" stroke-width="0.85"/>
<path d="M346.65 445.07L349.65 448.07L346.65 451.07L343.65 448.07Z" fill="none" stroke="#404040" stroke-width="0.85"/>
<path d="M355.35 390.73L358.35 393.73L355.35 396.73L352.35 393.73Z" fill="none" stroke="#404040" stroke-width="0.85"/>
<path d="M364.05 448.30L367.05 451.30L364.05 454.30L361.05 451.30Z" fill="none" stroke="#404040" stroke-width="0.85"/>
<path d="M372.75 447.76L375.75 450.76L372.75 453.76L369.75 450.76Z" fill="none" stroke="#404040" stroke-width="0.85"/>
<path d="M381.45 445.07L384.45 448.07L381.45 451.07L378.45 448.07Z" fill="none" stroke="#404040" stroke-width="0.85"/>
<path d="M390.15 445.07L393.15 448.07L390.15 451.07L387.15 448.07Z" fill="none" stroke="#404040" stroke-width="0.85"/>
<path d="M398.85 446.69L401.85 449.69L398.85 452.69L395.85 449.69Z" fill="none" stroke="#404040" stroke-width="0.85"/>
<path d="M407.55 445.07L410.55 448.07L407.55 451.07L404.55 448.07Z" fill="none" stroke="#404040" stroke-width="0.85"/>
<path d="M416.25 444.00L419.25 447.00L416.25 450.00L413.25 447.00Z" fill="none" stroke="#404040" stroke-width="0.85"/>
<path d="M424.95 444.00L427.95 447.00L424.95 450.00L421.95 447.00Z" fill="none" stroke="#404040" stroke-width="0.85"/>
<path d="M433.65 445.07L436.65 448.07L433.65 451.07L430.65 448.07Z" fill="none" stroke="#404040" stroke-width="0.85"/>
<path d="M442.35 447.76L445.35 450.76L442.35 453.76L439.35 450.76Z" fill="none" stroke="#404040" stroke-width="0.85"/>
<path d="M451.05 446.15L454.05 449.15L451.05 452.15L448.05 449.15Z" fill="none" stroke="#404040" stroke-width="0.85"/>
<path d="M459.75 433.77L462.75 436.77L459.75 439.77L456.75 436.77Z" fill="none" stroke="#404040" stroke-width="0.85"/>
<path d="M468.45 448.30L471.45 451.30L468.45 454.30L465.45 451.30Z" fill="none" stroke="#404040" stroke-width="0.85"/>
<path d="M477.15 448.30L480.15 451.30L477.15 454.30L474.15 451.30Z" fill="none" stroke="#404040" stroke-width="0.85"/>
<path d="M485.85 442.92L488.85 445.92L485.85 448.92L482.85 445.92Z" fill="none" stroke="#404040" stroke-width="0.85"/>
<path d="M494.55 446.15L497.55 449.15L494.55 452.15L491.55 449.15Z" fill="none" stroke="#404040" stroke-width="0.85"/>
<path d="M503.25 447.76L506.25 450.76L503.25 453.76L500.25 450.76Z" fill="none" stroke="#404040" stroke-width="0.85"/>
<path d="M511.95 428.93L514.95 431.93L511.95 434.93L508.95 431.93Z" fill="none" stroke="#404040" stroke-width="0.85"/>
<path d="M520.65 438.62L523.65 441.62L520.65 444.62L517.65 441.62Z" fill="none" stroke="#404040" stroke-width="0.85"/>
<path d="M529.35 446.69L532.35 449.69L529.35 452.69L526.35 449.69Z" fill="none" stroke="#404040" stroke-width="0.85"/>
<path d="M311.85 447.22L314.85 452.62L308.85 452.62Z" fill="none" stroke="#404040" stroke-width="0.85"/>
<path d="M320.55 445.07L323.55 450.47L317.55 450.47Z" fill="none" stroke="#404040" stroke-width="0.85"/>
<path d="M329.25 444.53L332.25 449.93L326.25 449.93Z" fill="none" stroke="#404040" stroke-width="0.85"/>
<path d="M337.95 444.00L340.95 449.40L334.95 449.40Z" fill="none" stroke="#404040" stroke-width="0.85"/>
<path d="M346.65 446.69L349.65 452.09L343.65 452.09Z" fill="none" stroke="#404040" stroke-width="0.85"/>
<path d="M355.35 444.00L358.35 449.40L352.35 449.40Z" fill="none" stroke="#404040" stroke-width="0.85"/>
<path d="M364.05 448.30L367.05 453.70L361.05 453.70Z" fill="none" stroke="#404040" stroke-width="0.85"/>
<path d="M372.75 447.22L375.75 452.62L369.75 452.62Z" fill="none" stroke="#404040" stroke-width="0.85"/>
<path d="M381.45 447.22L384.45 452.62L378.45 452.62Z" fill="none" stroke="#404040" stroke-width="0.85"/>
<path d="M390.15 442.92L393.15 448.32L387.15 448.32Z" fill="none" stroke="#404040" stroke-width="0.85"/>
<path d="M398.85 448.30L401.85 453.70L395.85 453.70Z" fill="none" stroke="#404040" stroke-width="0.85"/>
<path d="M407.55 444.00L410.55 449.40L404.55 449.40Z" fill="none" stroke="#404040" stroke-width="0.85"/>
<path d="M416.25 442.92L419.25 448.32L413.25 448.32Z" fill="none" stroke="#404040" stroke-width="0.85"/>
<path d="M424.95 447.22L427.95 452.62L421.95 452.62Z" fill="none" stroke="#404040" stroke-width="0.85"/>
<path d="M433.65 434.85L436.65 440.25L430.65 440.25Z" fill="none" stroke="#404040" stroke-width="0.85"/>
<path d="M442.35 446.69L445.35 452.09L439.35 452.09Z" fill="none" stroke="#404040" stroke-width="0.85"/>
<path d="M451.05 445.61L454.05 451.01L448.05 451.01Z" fill="none" stroke="#404040" stroke-width="0.85"/>
<path d="M459.75 442.38L462.75 447.78L456.75 447.78Z" fill="none" stroke="#404040" stroke-width="0.85"/>
<path d="M468.45 437.54L471.45 442.94L465.45 442.94Z" fill="none" stroke="#404040" stroke-width="0.85"/>
<path d="M477.15 448.30L480.15 453.70L474.15 453.70Z" fill="none" stroke="#404040" stroke-width="0.85"/>
<path d="M485.85 440.23L488.85 445.63L482.85 445.63Z" fill="none" stroke="#404040" stroke-width="0.85"/>
<path d="M494.55 430.01L497.55 435.41L491.55 435.41Z" fill="none" stroke="#404040" stroke-width="0.85"/>
<path d="M503.25 448.30L506.25 453.70L500.25 453.70Z" fill="none" stroke="#404040" stroke-width="0.85"/>
<path d="M511.95 439.69L514.95 445.09L508.95 445.09Z" fill="none" stroke="#404040" stroke-width="0.85"/>
<path d="M520.65 435.39L523.65 440.79L517.65 440.79Z" fill="none" stroke="#404040" stroke-width="0.85"/>
<path d="M529.35 445.07L532.35 450.47L526.35 450.47Z" fill="none" stroke="#404040" stroke-width="0.85"/>
<path d="M308.85 446.15L314.85 452.15M314.85 446.15L308.85 452.15" stroke="#404040" stroke-width="0.85"/>
<path d="M317.55 446.15L323.55 452.15M323.55 446.15L317.55 452.15" stroke="#404040" stroke-width="0.85"/>
<path d="M326.25 445.61L332.25 451.61M332.25 445.61L326.25 451.61" stroke="#404040" stroke-width="0.85"/>
<path d="M334.95 434.85L340.95 440.85M340.95 434.85L334.95 440.85" stroke="#404040" stroke-width="0.85"/>
<path d="M343.65 447.22L349.65 453.22M349.65 447.22L343.65 453.22" stroke="#404040" stroke-width="0.85"/>
<path d="M352.35 390.73L358.35 396.73M358.35 390.73L352.35 396.73" stroke="#404040" stroke-width="0.85"/>
<path d="M361.05 448.30L367.05 454.30M367.05 448.30L361.05 454.30" stroke="#404040" stroke-width="0.85"/>
<path d="M369.75 446.69L375.75 452.69M375.75 446.69L369.75 452.69" stroke="#404040" stroke-width="0.85"/>
<path d="M378.45 446.69L384.45 452.69M384.45 446.69L378.45 452.69" stroke="#404040" stroke-width="0.85"/>
<path d="M387.15 447.22L393.15 453.22M393.15 447.22L387.15 453.22" stroke="#404040" stroke-width="0.85"/>
<path d="M395.85 447.22L401.85 453.22M401.85 447.22L395.85 453.22" stroke="#404040" stroke-width="0.85"/>
<path d="M404.55 446.69L410.55 452.69M410.55 446.69L404.55 452.69" stroke="#404040" stroke-width="0.85"/>
<path d="M413.25 446.15L419.25 452.15M419.25 446.15L413.25 452.15" stroke="#404040" stroke-width="0.85"/>
<path d="M421.95 445.61L427.95 451.61M427.95 445.61L421.95 451.61" stroke="#404040" stroke-width="0.85"/>
<path d="M430.65 446.15L436.65 452.15M436.65 446.15L430.65 452.15" stroke="#404040" stroke-width="0.85"/>
<path d="M439.35 447.22L445.35 453.22M445.35 447.22L439.35 453.22" stroke="#404040" stroke-width="0.85"/>
<path d="M448.05 410.64L454.05 416.64M454.05 410.64L448.05 416.64" stroke="#404040" stroke-width="0.85"/>
<path d="M456.75 446.15L462.75 452.15M462.75 446.15L456.75 452.15" stroke="#404040" stroke-width="0.85"/>
<path d="M465.45 448.30L471.45 454.30M471.45 448.30L465.45 454.30" stroke="#404040" stroke-width="0.85"/>
<path d="M474.15 440.77L480.15 446.77M480.15 440.77L474.15 446.77" stroke="#404040" stroke-width="0.85"/>
<path d="M482.85 446.69L488.85 452.69M488.85 446.69L482.85 452.69" stroke="#404040" stroke-width="0.85"/>
<path d="M491.55 447.76L497.55 453.76M497.55 447.76L491.55 453.76" stroke="#404040" stroke-width="0.85"/>
<path d="M500.25 447.22L506.25 453.22M506.25 447.22L500.25 453.22" stroke="#404040" stroke-width="0.85"/>
<path d="M508.95 431.08L514.95 437.08M514.95 431.08L508.95 437.08" stroke="#404040" stroke-width="0.85"/>
<path d="M517.65 418.17L523.65 424.17M523.65 418.17L517.65 424.17" stroke="#404040" stroke-width="0.85"/>
<path d="M526.35 446.15L532.35 452.15M532.35 446.15L526.35 452.15" stroke="#404040" stroke-width="0.85"/>
<path d="M308.85 448.07L314.85 448.07M311.85 445.07L311.85 451.07" stroke="#404040" stroke-width="0.85"/>
<path d="M317.55 450.22L323.55 450.22M320.55 447.22L320.55 453.22" stroke="#404040" stroke-width="0.85"/>
<path d="M326.25 449.69L332.25 449.69M329.25 446.69L329.25 452.69" stroke="#404040" stroke-width="0.85"/>
<path d="M334.95 448.07L340.95 448.07M337.95 445.07L337.95 451.07" stroke="#404040" stroke-width="0.85"/>
<path d="M343.65 451.30L349.65 451.30M346.65 448.30L346.65 454.30" stroke="#404040" stroke-width="0.85"/>
<path d="M352.35 445.92L358.35 445.92M355.35 442.92L355.35 448.92" stroke="#404040" stroke-width="0.85"/>
<path d="M361.05 451.30L367.05 451.30M364.05 448.30L364.05 454.30" stroke="#404040" stroke-width="0.85"/>
<path d="M369.75 450.76L375.75 450.76M372.75 447.76L372.75 453.76" stroke="#404040" stroke-width="0.85"/>
<path d="M378.45 448.61L384.45 448.61M381.45 445.61L381.45 451.61" stroke="#404040" stroke-width="0.85"/>
<path d="M387.15 437.85L393.15 437.85M390.15 434.85L390.15 440.85" stroke="#404040" stroke-width="0.85"/>
<path d="M395.85 450.76L401.85 450.76M398.85 447.76L398.85 453.76" stroke="#404040" stroke-width="0.85"/>
<path d="M404.55 449.15L410.55 449.15M407.55 446.15L407.55 452.15" stroke="#404040" stroke-width="0.85"/>
<path d="M413.25 448.61L419.25 448.61M416.25 445.61L416.25 451.61" stroke="#404040" stroke-width="0.85"/>
<path d="M421.95 445.92L427.95 445.92M424.95 442.92L424.95 448.92" stroke="#404040" stroke-width="0.85"/>
<path d="M430.65 449.69L436.65 449.69M433.65 446.69L433.65 452.69" stroke="#404040" stroke-width="0.85"/>
<path d="M439.35 450.76L445.35 450.76M442.35 447.76L442.35 453.76" stroke="#404040" stroke-width="0.85"/>
<path d="M448.05 429.78L454.05 429.78M451.05 426.78L451.05 432.78" stroke="#404040" stroke-width="0.85"/>
<path d="M456.75 421.17L462.75 421.17M459.75 418.17L459.75 424.17" stroke="#404040" stroke-width="0.85"/>
<path d="M465.45 451.30L471.45 451.30M468.45 448.30L468.45 454.30" stroke="#404040" stroke-width="0.85"/>
<path d="M474.15 450.22L480.15 450.22M477.15 447.22L477.15 453.22" stroke="#404040" stroke-width="0.85"/>
<path d="M482.85 449.15L488.85 449.15M485.85 446.15L485.85 452.15" stroke="#404040" stroke-width="0.85"/>
<path d="M491.55 449.69L497.55 449.69M494.55 446.69L494.55 452.69" stroke="#404040" stroke-width="0.85"/>
<path d="M500.25 450.76L506.25 450.76M503.25 447.76L503.25 453.76" stroke="#404040" stroke-width="0.85"/>
<path d="M508.95 410.41L514.95 410.41M511.95 407.41L511.95 413.41" stroke="#404040" stroke-width="0.85"/>
<path d="M517.65 441.08L523.65 441.08M520.65 438.08L520.65 444.08" stroke="#404040" stroke-width="0.85"/>
<path d="M526.35 445.92L532.35 445.92M529.35 442.92L529.35 448.92" stroke="#404040" stroke-width="0.85"/>
<circle cx="282.20" cy="485.30" r="1.80" fill="none" stroke="#ff4d4d" stroke-width="0.75"/>
<text transform="translate(286.00,486.80) scale(0.8351,1)" x="0.00 3.94 9.90" y="0" font-size="7.21" fill="#464646">omi</text>
<rect x="299.58" y="483.69" width="3.23" height="3.23" fill="none" stroke="#ff4d4d" stroke-width="0.75"/>
<text transform="translate(304.20,486.80) scale(0.9035,1)" x="0.00 3.85 7.49 9.17" y="0" font-size="7.21" fill="#464646">delt</text>
<path d="M319.90 483.40L321.80 485.30L319.90 487.20L318.00 485.30Z" fill="none" stroke="#ff4d4d" stroke-width="0.75"/>
<text transform="translate(323.30,486.80) scale(0.8585,1)" x="0.00 3.71 5.49 9.56" y="0" font-size="7.21" fill="#464646">alph</text>
<path d="M340.60 483.40L342.50 486.82L338.70 486.82Z" fill="none" stroke="#ff4d4d" stroke-width="0.75"/>
<text transform="translate(343.60,486.80) scale(0.8839,1)" x="0.00 4.01 7.81 10.37" y="0" font-size="7.21" fill="#464646">beta</text>
<path d="M359.70 483.40L363.50 487.20M363.50 483.40L359.70 487.20" stroke="#ff4d4d" stroke-width="0.75"/>
<text transform="translate(364.50,486.80) scale(0.8439,1)" x="0.00 3.70 7.47 13.75" y="0" font-size="7.21" fill="#464646">gamm</text>
<path d="M384.70 485.30L388.50 485.30" stroke="#ff4d4d" stroke-width="1.2000000000000002"/>
<text transform="translate(389.60,486.80) scale(0.8546,1)" x="0.00 4.00 8.23 11.38" y="0" font-size="7.21" fill="#464646">epsi</text>
<path d="M404.30 485.30L408.10 485.30M406.20 483.40L406.20 487.20" stroke="#ff4d4d" stroke-width="0.75"/>
<text transform="translate(409.50,486.80) scale(0.8294,1)" x="0.00 3.15 7.13 9.80" y="0" font-size="7.21" fill="#464646">zeta</text>
<rect x="424.58" y="483.69" width="3.23" height="3.23" fill="none" stroke="#404040" stroke-width="0.75"/>
<text transform="translate(429.50,486.80) scale(0.8682,1)" x="0.00 3.80 6.36" y="0" font-size="7.21" fill="#464646">eta</text>
<circle cx="443.60" cy="485.30" r="1.80" fill="none" stroke="#404040" stroke-width="0.75"/>
<text transform="translate(446.80,486.80) scale(0.9565,1)" x="0.00 2.38 6.11 9.64" y="0" font-size="7.21" fill="#464646">thet</text>
<path d="M463.60 483.40L465.50 485.30L463.60 487.20L461.70 485.30Z" fill="none" stroke="#404040" stroke-width="0.75"/>
<text transform="translate(466.60,486.80) scale(0.9207,1)" x="0.00 1.70 5.60 8.08" y="0" font-size="7.21" fill="#464646">iota</text>
<path d="M482.60 483.40L484.50 486.82L480.70 486.82Z" fill="none" stroke="#404040" stroke-width="0.75"/>
<text transform="translate(485.80,486.80) scale(0.9021,1)" x="0.00 3.58 7.35 11.49" y="0" font-size="7.21" fill="#464646">kapp</text>
<path d="M503.00 483.40L506.80 487.20M506.80 483.40L503.00 487.20" stroke="#404040" stroke-width="0.75"/>
<text transform="translate(507.70,486.80) scale(0.8513,1)" x="0.00 1.76 5.45 11.59" y="0" font-size="7.21" fill="#464646">lamb</text>
<path d="M524.70 485.30L528.50 485.30M526.60 483.40L526.60 487.20" stroke="#404040" stroke-width="0.75"/>
<text transform="translate(530.00,486.80) scale(0.7889,1)" x="0.00 6.04" y="0" font-size="7.21" fill="#464646">mu</text>
</g>
</svg>
</body></html>
